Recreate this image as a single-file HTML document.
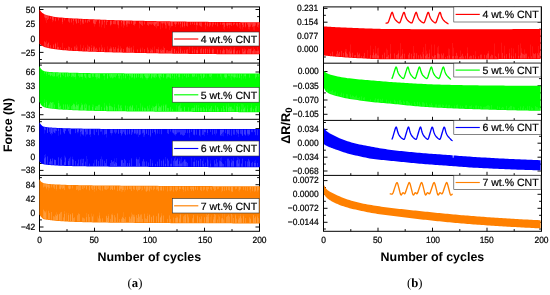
<!DOCTYPE html>
<html lang="en"><head><meta charset="utf-8"><title>Cyclic force and resistance response</title>
<style>html,body{margin:0;padding:0;background:#fff}body{width:550px;height:295px;overflow:hidden}svg{display:block}</style>
</head><body>
<svg width="550" height="295" viewBox="0 0 550 295" font-family="'Liberation Sans', Arial, sans-serif" fill="#000" text-rendering="geometricPrecision">
<rect width="550" height="295" fill="#fff"/>
<g stroke="#000" stroke-width="0.95" fill="none">
<path d="M94.5,6.9v3.6M149.5,6.9v3.6M204.5,6.9v3.6M67.0,6.9v2.2M122.0,6.9v2.2M177.0,6.9v2.2M232.0,6.9v2.2M94.5,63.1v-3.6M149.5,63.1v-3.6M204.5,63.1v-3.6M67.0,63.1v-2.2M122.0,63.1v-2.2M177.0,63.1v-2.2M232.0,63.1v-2.2M94.5,119.3v-3.6M149.5,119.3v-3.6M204.5,119.3v-3.6M67.0,119.3v-2.2M122.0,119.3v-2.2M177.0,119.3v-2.2M232.0,119.3v-2.2M94.5,175.4v-3.6M149.5,175.4v-3.6M204.5,175.4v-3.6M67.0,175.4v-2.2M122.0,175.4v-2.2M177.0,175.4v-2.2M232.0,175.4v-2.2M94.5,231.3v-3.6M149.5,231.3v-3.6M204.5,231.3v-3.6M67.0,231.3v-2.2M122.0,231.3v-2.2M177.0,231.3v-2.2M232.0,231.3v-2.2M39.5,9.5h4M259.5,9.5h-4M39.5,23.8h4M259.5,23.8h-4M39.5,38.1h4M259.5,38.1h-4M39.5,52.4h4M259.5,52.4h-4M39.5,72.0h4M259.5,72.0h-4M39.5,86.2h4M259.5,86.2h-4M39.5,100.4h4M259.5,100.4h-4M39.5,114.7h4M259.5,114.7h-4M39.5,128.6h4M259.5,128.6h-4M39.5,142.5h4M259.5,142.5h-4M39.5,156.5h4M259.5,156.5h-4M39.5,170.4h4M259.5,170.4h-4M39.5,184.7h4M259.5,184.7h-4M39.5,198.8h4M259.5,198.8h-4M39.5,212.9h4M259.5,212.9h-4M39.5,227.0h4M259.5,227.0h-4M39.5,16.6h2.4M259.5,16.6h-2.4M39.5,31.0h2.4M259.5,31.0h-2.4M39.5,45.3h2.4M259.5,45.3h-2.4M39.5,59.5h2.4M259.5,59.5h-2.4M39.5,65.1h2.4M259.5,65.1h-2.4M39.5,79.1h2.4M259.5,79.1h-2.4M39.5,93.3h2.4M259.5,93.3h-2.4M39.5,107.6h2.4M259.5,107.6h-2.4M39.5,121.7h2.4M259.5,121.7h-2.4M39.5,135.6h2.4M259.5,135.6h-2.4M39.5,149.5h2.4M259.5,149.5h-2.4M39.5,163.5h2.4M259.5,163.5h-2.4M39.5,177.6h2.4M259.5,177.6h-2.4M39.5,191.8h2.4M259.5,191.8h-2.4M39.5,205.8h2.4M259.5,205.8h-2.4M39.5,219.9h2.4M259.5,219.9h-2.4"/>
</g>
<g stroke="#000" stroke-width="1" fill="none">
<rect x="39.5" y="6.9" width="220.0" height="224.4"/>
<path d="M39.5,63.1H259.5M39.5,119.3H259.5M39.5,175.4H259.5"/>
</g>
<path d="M39.4,9.38 L39.9,10.10 L40.4,10.78 L40.9,11.42 L41.4,11.98 L41.9,12.47 L42.4,12.89 L42.9,13.27 L43.4,13.62 L43.9,13.93 L44.4,14.20 L44.9,14.44 L45.4,14.64 L45.9,14.81 L46.4,14.98 L46.9,15.13 L47.4,15.27 L47.9,15.39 L48.4,15.52 L48.9,15.63 L49.4,15.75 L49.9,15.87 L50.4,15.98 L50.9,16.10 L51.4,16.21 L51.9,16.32 L52.4,16.43 L52.9,16.53 L53.4,16.63 L55.4,16.95 L57.4,17.19 L59.4,17.40 L61.4,17.58 L63.4,17.74 L65.3,17.89 L67.3,18.02 L69.3,18.15 L71.3,18.27 L73.3,18.39 L75.3,18.50 L77.3,18.60 L79.3,18.70 L81.3,18.80 L83.3,18.89 L85.3,18.98 L87.3,19.07 L89.3,19.16 L91.3,19.24 L93.3,19.33 L95.3,19.42 L97.3,19.50 L99.3,19.59 L101.3,19.67 L103.3,19.76 L105.3,19.84 L107.3,19.91 L109.3,19.98 L111.3,20.04 L113.3,20.10 L115.3,20.16 L117.3,20.22 L119.3,20.28 L121.3,20.34 L123.3,20.39 L125.3,20.44 L127.3,20.49 L129.3,20.54 L131.3,20.59 L133.3,20.64 L135.3,20.69 L137.3,20.73 L139.3,20.78 L141.3,20.82 L143.3,20.86 L145.3,20.91 L147.3,20.95 L149.3,20.99 L151.3,21.03 L153.3,21.07 L155.3,21.10 L157.3,21.14 L159.3,21.18 L161.3,21.22 L163.3,21.26 L165.3,21.29 L167.3,21.33 L169.3,21.37 L171.3,21.40 L173.3,21.44 L175.3,21.47 L177.3,21.50 L179.3,21.53 L181.3,21.56 L183.3,21.59 L185.3,21.62 L187.3,21.65 L189.3,21.68 L191.3,21.70 L193.3,21.73 L195.3,21.75 L197.3,21.77 L199.3,21.79 L201.3,21.81 L203.3,21.83 L205.3,21.85 L207.3,21.87 L209.3,21.89 L211.3,21.91 L213.3,21.92 L215.3,21.94 L217.3,21.96 L219.3,21.98 L221.3,21.99 L223.3,22.01 L225.3,22.03 L227.3,22.04 L229.3,22.06 L231.3,22.07 L233.3,22.08 L235.3,22.10 L237.3,22.11 L239.3,22.12 L241.3,22.13 L243.3,22.14 L245.3,22.15 L247.3,22.16 L249.3,22.17 L251.3,22.18 L253.3,22.19 L255.3,22.19 L257.4,22.20 L259.4,22.20 L259.9,22.20 L259.9,54.30 L259.4,54.30 L257.4,54.30 L255.3,54.30 L253.3,54.30 L251.3,54.29 L249.3,54.29 L247.3,54.28 L245.3,54.28 L243.3,54.27 L241.3,54.26 L239.3,54.26 L237.3,54.25 L235.3,54.24 L233.3,54.23 L231.3,54.22 L229.3,54.21 L227.3,54.19 L225.3,54.18 L223.3,54.17 L221.3,54.16 L219.3,54.14 L217.3,54.13 L215.3,54.12 L213.3,54.10 L211.3,54.09 L209.3,54.07 L207.3,54.06 L205.3,54.04 L203.3,54.03 L201.3,54.01 L199.3,53.99 L197.3,53.98 L195.3,53.96 L193.3,53.94 L191.3,53.91 L189.3,53.89 L187.3,53.86 L185.3,53.83 L183.3,53.80 L181.3,53.77 L179.3,53.74 L177.3,53.71 L175.3,53.68 L173.3,53.64 L171.3,53.60 L169.3,53.57 L167.3,53.53 L165.3,53.49 L163.3,53.46 L161.3,53.42 L159.3,53.38 L157.3,53.34 L155.3,53.30 L153.3,53.26 L151.3,53.23 L149.3,53.19 L147.3,53.15 L145.3,53.11 L143.3,53.07 L141.3,53.03 L139.3,53.00 L137.3,52.96 L135.3,52.92 L133.3,52.87 L131.3,52.83 L129.3,52.79 L127.3,52.75 L125.3,52.70 L123.3,52.65 L121.3,52.61 L119.3,52.56 L117.3,52.51 L115.3,52.46 L113.3,52.41 L111.3,52.35 L109.3,52.30 L107.3,52.24 L105.3,52.18 L103.3,52.12 L101.3,52.06 L99.3,52.00 L97.3,51.93 L95.3,51.87 L93.3,51.80 L91.3,51.72 L89.3,51.65 L87.3,51.57 L85.3,51.49 L83.3,51.40 L81.3,51.31 L79.3,51.22 L77.3,51.12 L75.3,51.01 L73.3,50.90 L71.3,50.78 L69.3,50.66 L67.3,50.52 L65.3,50.35 L63.4,50.17 L61.4,49.97 L59.4,49.75 L57.4,49.51 L55.4,49.25 L53.4,48.97 L52.9,48.90 L52.4,48.82 L51.9,48.74 L51.4,48.66 L50.9,48.57 L50.4,48.48 L49.9,48.39 L49.4,48.29 L48.9,48.19 L48.4,48.08 L47.9,47.97 L47.4,47.85 L46.9,47.73 L46.4,47.59 L45.9,47.45 L45.4,47.31 L44.9,47.15 L44.4,46.97 L43.9,46.75 L43.4,46.50 L42.9,46.23 L42.4,45.94 L41.9,45.63 L41.4,45.30 L40.9,44.96 L40.4,44.61 L39.9,44.25 L39.4,43.89Z" fill="#ff0000"/>
<path d="M44.5,14.62v2.8M44.5,46.22v-4.9M45.5,15.10v3.0M45.5,46.60v-4.3M46.5,15.47v2.5M47.5,15.77v4.2M47.5,47.16v-3.3M48.5,16.03v2.9M48.5,47.41v-4.8M50.5,16.50v2.3M50.5,47.82v-2.7M52.5,16.96v2.8M53.5,17.16v3.4M53.5,48.32v-3.0M55.5,17.50v3.7M55.5,48.60v-4.8M57.5,48.86v-1.6M58.5,17.86v2.5M58.5,48.99v-2.1M60.5,49.22v-1.9M62.5,18.23v3.9M64.5,18.39v1.9M64.5,49.63v-1.7M66.5,49.81v-1.6M68.5,18.67v2.9M68.5,49.96v-3.4M69.5,18.73v3.9M69.5,50.04v-3.1M71.5,18.85v3.6M71.5,50.16v-2.3M73.5,18.97v2.0M74.5,50.34v-3.8M75.5,19.08v2.3M76.5,19.13v4.5M76.5,50.45v-2.6M78.5,19.24v3.8M80.5,19.33v1.9M82.5,19.43v3.1M82.5,50.74v-2.6M83.5,19.47v4.4M85.5,19.56v2.9M85.5,50.87v-3.3M87.5,19.65v3.1M87.5,50.96v-2.3M88.5,19.70v1.5M88.5,51.00v-1.6M89.5,19.74v2.3M89.5,51.04v-4.3M91.5,51.11v-3.1M93.5,19.91v3.0M93.5,51.18v-3.5M94.5,19.96v4.0M94.5,51.22v-4.6M95.5,20.00v4.2M95.5,51.25v-2.5M96.5,20.04v1.6M96.5,51.29v-3.5M97.5,51.32v-1.7M99.5,20.17v3.2M99.5,51.39v-3.9M101.5,51.45v-2.1M102.5,20.30v4.3M102.5,51.48v-3.9M104.5,20.38v1.8M104.5,51.54v-2.0M106.5,20.46v4.4M107.5,20.50v1.5M109.5,51.69v-2.9M110.5,20.60v4.2M110.5,51.72v-3.2M111.5,20.63v3.8M111.5,51.74v-3.2M113.5,20.69v3.4M113.5,51.80v-4.7M114.5,20.72v3.5M114.5,51.82v-2.7M115.5,20.75v3.5M115.5,51.85v-4.7M117.5,20.81v3.7M117.5,51.90v-3.3M118.5,20.84v4.4M118.5,51.93v-3.5M120.5,51.98v-2.3M121.5,20.93v1.7M121.5,52.00v-3.7M123.5,20.98v3.4M123.5,52.05v-3.1M124.5,21.01v4.5M126.5,21.06v3.6M126.5,52.12v-4.7M127.5,21.09v2.4M127.5,52.14v-5.0M128.5,21.11v2.5M128.5,52.16v-4.3M129.5,21.14v3.0M129.5,52.18v-3.8M131.5,21.19v2.5M131.5,52.22v-4.8M133.5,21.23v3.8M133.5,52.27v-2.6M134.5,21.26v3.2M135.5,21.28v2.5M137.5,52.35v-2.9M139.5,21.37v1.9M140.5,21.39v2.6M140.5,52.41v-2.9M141.5,21.41v3.6M142.5,21.44v4.4M144.5,21.48v2.9M144.5,52.49v-3.5M147.5,21.54v3.4M147.5,52.54v-4.9M148.5,21.56v4.1M148.5,52.56v-2.8M149.5,21.58v2.6M150.5,21.60v2.8M150.5,52.60v-1.5M151.5,21.62v3.1M151.5,52.62v-3.1M152.5,21.64v2.2M152.5,52.64v-2.3M153.5,21.66v3.2M154.5,21.68v4.2M155.5,21.70v2.7M156.5,21.72v1.9M156.5,52.71v-3.8M157.5,21.74v4.4M157.5,52.73v-3.5M158.5,21.76v4.3M158.5,52.75v-3.1M160.5,52.79v-3.1M161.5,21.81v1.6M161.5,52.81v-1.9M162.5,21.83v1.7M162.5,52.83v-3.0M163.5,21.85v1.5M163.5,52.85v-2.7M164.5,21.87v1.7M164.5,52.87v-4.9M165.5,21.89v3.3M166.5,52.91v-2.6M167.5,21.92v1.6M167.5,52.92v-2.8M168.5,21.94v3.6M168.5,52.94v-1.7M169.5,21.96v3.7M169.5,52.96v-2.1M170.5,52.98v-2.1M171.5,21.99v3.9M171.5,53.00v-3.3M172.5,22.01v4.0M174.5,22.05v1.8M174.5,53.05v-4.2M175.5,22.06v2.7M176.5,22.08v1.8M176.5,53.09v-2.3M178.5,22.11v2.4M178.5,53.12v-1.6M180.5,22.14v1.9M180.5,53.15v-3.8M182.5,22.17v4.5M182.5,53.18v-2.6M184.5,22.20v3.7M184.5,53.21v-3.4M186.5,22.23v3.6M186.5,53.24v-3.5M187.5,22.25v4.3M187.5,53.26v-4.0M190.5,22.29v2.6M192.5,22.31v2.0M192.5,53.32v-2.6M194.5,22.34v2.6M194.5,53.34v-4.0M196.5,22.36v2.6M196.5,53.36v-3.5M197.5,22.37v3.0M197.5,53.37v-3.0M199.5,22.39v2.9M200.5,22.40v3.8M200.5,53.40v-4.2M201.5,22.41v4.3M201.5,53.41v-5.0M203.5,53.42v-4.0M205.5,22.45v2.4M205.5,53.44v-4.9M207.5,22.47v3.8M207.5,53.45v-4.2M209.5,22.48v4.2M209.5,53.47v-3.9M210.5,22.49v2.9M212.5,22.51v4.1M212.5,53.49v-3.6M213.5,22.52v2.0M213.5,53.50v-4.3M215.5,22.54v2.3M217.5,22.56v3.8M217.5,53.53v-4.0M220.5,22.58v2.1M220.5,53.55v-3.7M222.5,22.60v2.3M222.5,53.56v-2.9M223.5,22.61v1.9M223.5,53.57v-3.9M224.5,22.61v4.2M224.5,53.57v-3.7M226.5,22.63v2.8M226.5,53.59v-4.9M227.5,22.64v3.3M227.5,53.59v-4.3M228.5,22.65v2.2M228.5,53.60v-3.4M229.5,22.65v2.3M229.5,53.60v-4.3M230.5,22.66v2.2M230.5,53.61v-2.2M231.5,22.67v3.4M231.5,53.61v-3.2M233.5,22.68v2.6M233.5,53.63v-3.4M234.5,22.69v1.6M234.5,53.63v-4.1M236.5,22.70v2.6M236.5,53.64v-2.5M237.5,22.71v3.8M237.5,53.64v-3.4M239.5,22.72v1.7M239.5,53.65v-3.2M242.5,22.74v2.3M242.5,53.67v-4.9M243.5,22.74v4.4M243.5,53.67v-1.6M244.5,53.67v-2.9M245.5,22.75v3.8M245.5,53.68v-4.3M247.5,22.76v1.9M247.5,53.68v-3.3M248.5,22.77v4.0M248.5,53.68v-4.9M249.5,22.77v4.2M249.5,53.69v-4.7M250.5,22.77v3.8M250.5,53.69v-4.7M251.5,22.78v1.9M252.5,22.78v4.3M252.5,53.69v-2.7M253.5,22.78v3.6M253.5,53.69v-3.3M254.5,22.79v3.4M254.5,53.70v-4.7M255.5,22.79v2.8M255.5,53.70v-3.0M256.5,53.70v-2.7M257.5,22.80v4.1M257.5,53.70v-2.8M258.5,22.80v2.0M258.5,53.70v-2.8" stroke="#fff" stroke-opacity="0.21" stroke-width="0.8" fill="none"/>
<path d="M45.5,15.10v5.2M46.5,46.90v-6.3M46.5,15.47v7.4M48.5,47.41v-4.8M52.5,16.96v5.2M53.5,48.32v-4.3M55.5,48.60v-5.9M57.5,48.86v-6.4M62.5,49.44v-6.6M62.5,18.23v5.9M73.5,18.97v5.8M75.5,50.39v-4.0M76.5,50.45v-5.7M76.5,19.13v4.0M77.5,50.50v-4.0M80.5,50.65v-6.0M80.5,19.33v5.4M82.5,19.43v4.8M83.5,50.79v-5.4M87.5,50.96v-6.2M88.5,51.00v-4.8M89.5,51.04v-4.4M91.5,51.11v-6.1M93.5,51.18v-5.4M93.5,19.91v4.2M94.5,19.96v6.6M99.5,20.17v6.5M101.5,51.45v-6.7M101.5,20.26v7.1M104.5,51.54v-4.2M104.5,20.38v7.8M107.5,51.63v-5.2M110.5,51.72v-5.4M110.5,20.60v5.6M111.5,51.74v-4.6M118.5,51.93v-6.4M118.5,20.84v7.4M120.5,51.98v-5.6M121.5,20.93v5.6M123.5,20.98v6.8M126.5,21.06v5.7M127.5,52.14v-5.9M127.5,21.09v5.6M129.5,52.18v-5.9M130.5,52.20v-4.4M133.5,52.27v-6.5M134.5,21.26v4.8M139.5,21.37v7.0M140.5,52.41v-4.7M142.5,52.45v-4.8M150.5,52.60v-4.2M152.5,52.64v-5.1M154.5,52.68v-6.3M154.5,21.68v4.5M155.5,21.70v5.1M156.5,21.72v6.6M158.5,52.75v-5.6M160.5,21.79v7.5M161.5,52.81v-4.1M162.5,21.83v5.9M163.5,52.85v-6.3M165.5,21.89v6.7M166.5,21.91v6.6M169.5,21.96v7.9M170.5,21.98v5.6M171.5,53.00v-5.2M171.5,21.99v4.5M172.5,53.02v-5.0M174.5,53.05v-4.1M175.5,22.06v5.0M178.5,53.12v-6.9M180.5,53.15v-5.9M180.5,22.14v5.5M182.5,22.17v5.3M184.5,22.20v5.3M189.5,53.28v-6.5M192.5,53.32v-6.5M196.5,22.36v7.5M197.5,53.37v-5.9M203.5,53.42v-4.7M205.5,53.44v-4.4M205.5,22.45v6.9M209.5,53.47v-5.4M212.5,53.49v-5.3M223.5,53.57v-5.4M223.5,22.61v6.2M224.5,22.61v7.3M227.5,22.64v5.6M229.5,22.65v5.9M230.5,53.61v-6.1M231.5,53.61v-5.0M233.5,53.63v-5.2M234.5,53.63v-6.7M239.5,22.72v5.4M240.5,22.73v6.2M242.5,22.74v6.7M243.5,53.67v-4.4M244.5,53.67v-5.5M245.5,22.75v4.9M248.5,22.77v6.4M249.5,22.77v6.7M250.5,53.69v-5.3M251.5,53.69v-5.5M253.5,53.69v-6.5M253.5,22.78v7.0M254.5,22.79v7.6M257.5,53.70v-6.9M258.5,53.70v-4.1M258.5,22.80v5.0" stroke="#fff" stroke-opacity="0.12" stroke-width="0.7" fill="none"/>
<path d="M39.4,66.10 L39.9,67.07 L40.4,67.96 L40.9,68.73 L41.4,69.35 L41.9,69.82 L42.4,70.24 L42.9,70.60 L43.4,70.87 L43.9,71.04 L44.4,71.18 L44.9,71.30 L45.4,71.42 L45.9,71.51 L46.4,71.60 L46.9,71.68 L47.4,71.74 L47.9,71.80 L48.4,71.85 L48.9,71.89 L49.4,71.92 L49.9,71.96 L50.4,71.99 L50.9,72.02 L51.4,72.05 L51.9,72.07 L52.4,72.10 L52.9,72.13 L53.4,72.15 L55.4,72.24 L57.4,72.31 L59.4,72.38 L61.4,72.43 L63.4,72.49 L65.3,72.53 L67.3,72.58 L69.3,72.63 L71.3,72.69 L73.3,72.74 L75.3,72.79 L77.3,72.84 L79.3,72.89 L81.3,72.94 L83.3,72.98 L85.3,73.03 L87.3,73.07 L89.3,73.11 L91.3,73.14 L93.3,73.18 L95.3,73.21 L97.3,73.23 L99.3,73.26 L101.3,73.28 L103.3,73.29 L105.3,73.30 L107.3,73.31 L109.3,73.32 L111.3,73.33 L113.3,73.33 L115.3,73.34 L117.3,73.35 L119.3,73.36 L121.3,73.36 L123.3,73.37 L125.3,73.38 L127.3,73.39 L129.3,73.39 L131.3,73.40 L133.3,73.41 L135.3,73.41 L137.3,73.42 L139.3,73.43 L141.3,73.43 L143.3,73.44 L145.3,73.44 L147.3,73.45 L149.3,73.46 L151.3,73.46 L153.3,73.47 L155.3,73.47 L157.3,73.48 L159.3,73.48 L161.3,73.49 L163.3,73.49 L165.3,73.50 L167.3,73.50 L169.3,73.51 L171.3,73.51 L173.3,73.51 L175.3,73.52 L177.3,73.52 L179.3,73.53 L181.3,73.53 L183.3,73.53 L185.3,73.54 L187.3,73.54 L189.3,73.54 L191.3,73.55 L193.3,73.55 L195.3,73.55 L197.3,73.56 L199.3,73.56 L201.3,73.56 L203.3,73.56 L205.3,73.57 L207.3,73.57 L209.3,73.57 L211.3,73.57 L213.3,73.58 L215.3,73.58 L217.3,73.58 L219.3,73.58 L221.3,73.58 L223.3,73.59 L225.3,73.59 L227.3,73.59 L229.3,73.59 L231.3,73.59 L233.3,73.59 L235.3,73.59 L237.3,73.59 L239.3,73.60 L241.3,73.60 L243.3,73.60 L245.3,73.60 L247.3,73.60 L249.3,73.60 L251.3,73.60 L253.3,73.60 L255.3,73.60 L257.4,73.60 L259.4,73.60 L259.9,73.60 L259.9,112.20 L259.4,112.20 L257.4,112.19 L255.3,112.19 L253.3,112.18 L251.3,112.17 L249.3,112.17 L247.3,112.16 L245.3,112.15 L243.3,112.15 L241.3,112.14 L239.3,112.13 L237.3,112.12 L235.3,112.11 L233.3,112.10 L231.3,112.09 L229.3,112.08 L227.3,112.08 L225.3,112.07 L223.3,112.06 L221.3,112.05 L219.3,112.04 L217.3,112.02 L215.3,112.01 L213.3,112.00 L211.3,111.99 L209.3,111.98 L207.3,111.97 L205.3,111.96 L203.3,111.95 L201.3,111.93 L199.3,111.92 L197.3,111.91 L195.3,111.90 L193.3,111.89 L191.3,111.87 L189.3,111.86 L187.3,111.85 L185.3,111.83 L183.3,111.82 L181.3,111.81 L179.3,111.80 L177.3,111.78 L175.3,111.77 L173.3,111.76 L171.3,111.74 L169.3,111.73 L167.3,111.72 L165.3,111.70 L163.3,111.69 L161.3,111.68 L159.3,111.66 L157.3,111.65 L155.3,111.63 L153.3,111.62 L151.3,111.60 L149.3,111.59 L147.3,111.57 L145.3,111.56 L143.3,111.54 L141.3,111.52 L139.3,111.51 L137.3,111.49 L135.3,111.47 L133.3,111.45 L131.3,111.43 L129.3,111.41 L127.3,111.39 L125.3,111.37 L123.3,111.34 L121.3,111.32 L119.3,111.30 L117.3,111.27 L115.3,111.25 L113.3,111.22 L111.3,111.19 L109.3,111.16 L107.3,111.14 L105.3,111.11 L103.3,111.07 L101.3,111.04 L99.3,111.00 L97.3,110.95 L95.3,110.91 L93.3,110.86 L91.3,110.80 L89.3,110.74 L87.3,110.68 L85.3,110.62 L83.3,110.55 L81.3,110.48 L79.3,110.40 L77.3,110.32 L75.3,110.24 L73.3,110.15 L71.3,110.06 L69.3,109.97 L67.3,109.87 L65.3,109.76 L63.4,109.65 L61.4,109.52 L59.4,109.38 L57.4,109.22 L55.4,109.04 L53.4,108.83 L52.9,108.78 L52.4,108.72 L51.9,108.66 L51.4,108.60 L50.9,108.54 L50.4,108.48 L49.9,108.41 L49.4,108.35 L48.9,108.28 L48.4,108.20 L47.9,108.12 L47.4,108.03 L46.9,107.93 L46.4,107.81 L45.9,107.69 L45.4,107.55 L44.9,107.40 L44.4,107.24 L43.9,107.06 L43.4,106.85 L42.9,106.58 L42.4,106.24 L41.9,105.83 L41.4,105.34 L40.9,104.66 L40.4,103.79 L39.9,102.77 L39.4,101.66Z" fill="#00ff00"/>
<path d="M44.5,71.69v1.9M44.5,106.51v-3.5M46.5,72.14v1.6M46.5,107.13v-5.1M48.5,72.42v2.5M48.5,107.55v-2.3M49.5,72.50v2.1M49.5,107.70v-3.2M50.5,72.57v3.2M50.5,107.83v-5.9M51.5,72.63v2.6M51.5,107.96v-5.1M52.5,72.68v3.5M52.5,108.08v-5.9M53.5,72.73v3.8M54.5,72.78v3.5M54.5,108.30v-3.7M56.5,72.87v3.6M57.5,72.90v3.4M58.5,72.94v2.3M58.5,108.67v-5.6M59.5,72.97v1.6M59.5,108.75v-2.0M60.5,73.00v4.4M60.5,108.83v-3.1M62.5,73.05v1.7M63.5,73.08v2.7M63.5,109.03v-4.6M65.5,73.13v4.1M65.5,109.14v-4.7M67.5,73.17v3.4M67.5,109.25v-4.8M68.5,109.30v-2.7M69.5,73.23v2.8M71.5,73.28v3.8M71.5,109.44v-3.3M72.5,73.30v2.4M72.5,109.49v-4.4M73.5,73.33v3.0M73.5,109.53v-5.9M74.5,73.35v3.7M74.5,109.58v-5.4M75.5,73.38v3.3M75.5,109.62v-3.0M76.5,109.66v-4.7M77.5,109.71v-4.0M78.5,73.46v2.5M78.5,109.75v-5.5M79.5,73.48v4.0M80.5,73.50v3.2M80.5,109.83v-2.3M81.5,73.53v3.3M81.5,109.86v-4.5M82.5,73.55v3.2M82.5,109.90v-5.4M84.5,73.60v2.1M84.5,109.97v-5.5M85.5,73.62v4.3M85.5,110.01v-2.0M86.5,110.04v-5.6M88.5,73.68v3.6M89.5,73.70v4.2M89.5,110.13v-4.8M90.5,73.72v4.2M92.5,73.76v2.6M92.5,110.22v-3.3M93.5,73.77v3.1M95.5,73.80v3.3M95.5,110.30v-2.5M96.5,73.82v3.6M96.5,110.32v-4.2M97.5,73.83v2.9M97.5,110.35v-4.1M98.5,73.84v4.3M98.5,110.37v-5.5M99.5,73.85v3.8M99.5,110.39v-5.7M101.5,110.43v-3.6M103.5,73.89v1.9M104.5,73.90v1.8M104.5,110.48v-2.8M106.5,110.52v-4.7M107.5,73.91v4.3M107.5,110.53v-3.9M109.5,73.92v2.5M109.5,110.56v-4.5M110.5,73.92v3.9M110.5,110.57v-4.8M111.5,73.92v2.7M111.5,110.59v-4.2M112.5,73.93v4.4M112.5,110.60v-3.4M113.5,73.93v3.6M114.5,73.94v3.0M114.5,110.63v-3.4M115.5,73.94v3.5M116.5,73.94v1.7M116.5,110.66v-2.3M118.5,73.95v2.0M118.5,110.68v-6.0M119.5,73.96v4.5M119.5,110.69v-2.3M120.5,73.96v1.8M120.5,110.71v-5.2M121.5,110.72v-2.6M123.5,73.97v1.8M125.5,73.98v4.3M125.5,110.76v-5.2M127.5,73.98v2.1M127.5,110.79v-2.0M129.5,73.99v1.7M129.5,110.81v-4.2M130.5,74.00v2.3M130.5,110.82v-5.1M131.5,74.00v3.6M131.5,110.83v-3.4M132.5,74.00v3.3M132.5,110.84v-5.6M134.5,74.01v3.6M134.5,110.86v-2.3M136.5,74.02v3.4M138.5,74.02v3.2M138.5,110.89v-2.8M140.5,74.03v4.0M141.5,74.03v3.5M142.5,74.03v4.4M142.5,110.93v-3.5M144.5,74.04v2.0M144.5,110.95v-3.2M145.5,74.04v3.2M145.5,110.95v-2.6M146.5,74.05v4.0M147.5,74.05v4.1M147.5,110.97v-4.7M148.5,74.05v3.7M148.5,110.98v-2.4M149.5,74.05v1.5M151.5,74.06v3.8M151.5,111.00v-3.1M152.5,74.06v2.5M153.5,74.07v3.2M153.5,111.02v-3.4M154.5,74.07v3.4M154.5,111.02v-4.0M155.5,74.07v1.5M155.5,111.03v-4.8M156.5,74.07v3.1M156.5,111.04v-5.4M158.5,74.08v2.5M158.5,111.05v-2.9M159.5,74.08v3.8M159.5,111.06v-4.9M160.5,74.08v2.0M160.5,111.07v-3.7M161.5,74.09v2.9M161.5,111.07v-5.6M163.5,74.09v3.3M163.5,111.09v-5.3M165.5,111.10v-5.8M166.5,74.10v4.4M167.5,74.10v3.0M167.5,111.11v-3.2M168.5,74.10v2.7M168.5,111.12v-3.0M169.5,74.10v3.4M170.5,74.11v4.3M170.5,111.13v-4.0M172.5,74.11v1.8M172.5,111.15v-2.3M174.5,74.12v4.3M176.5,74.12v1.7M178.5,74.12v3.2M178.5,111.19v-4.9M179.5,74.13v2.9M179.5,111.19v-5.8M180.5,111.20v-2.8M181.5,111.21v-3.1M184.5,74.13v1.9M184.5,111.23v-4.1M186.5,74.14v3.5M188.5,74.14v2.9M188.5,111.25v-3.9M191.5,111.27v-2.8M192.5,74.15v2.2M192.5,111.28v-3.5M193.5,74.15v2.7M193.5,111.28v-3.2M194.5,74.15v1.7M194.5,111.29v-3.7M196.5,74.15v2.7M196.5,111.30v-6.0M198.5,111.31v-3.4M200.5,74.16v1.7M200.5,111.33v-3.7M201.5,74.16v4.4M201.5,111.33v-3.6M203.5,74.16v4.0M203.5,111.34v-4.3M204.5,74.17v2.6M204.5,111.35v-2.7M206.5,111.36v-3.0M209.5,74.17v2.4M209.5,111.38v-2.3M210.5,74.17v2.9M210.5,111.38v-3.6M211.5,74.17v1.5M211.5,111.39v-5.3M213.5,111.40v-2.2M215.5,111.41v-5.9M217.5,111.42v-4.1M218.5,111.43v-2.6M220.5,74.18v2.4M221.5,111.44v-3.3M223.5,111.45v-5.6M224.5,74.19v3.1M224.5,111.46v-2.2M225.5,74.19v4.1M226.5,74.19v3.0M226.5,111.47v-4.9M228.5,74.19v1.8M228.5,111.48v-3.6M229.5,74.19v2.0M229.5,111.48v-4.9M230.5,111.49v-4.4M231.5,74.19v2.0M231.5,111.49v-4.8M232.5,74.19v2.3M232.5,111.50v-2.8M233.5,74.19v3.2M233.5,111.50v-2.4M234.5,74.19v3.2M235.5,74.19v3.0M236.5,111.52v-5.4M237.5,74.19v3.4M237.5,111.52v-4.6M239.5,74.20v3.9M239.5,111.53v-5.0M241.5,74.20v1.7M241.5,111.54v-2.2M243.5,111.54v-2.5M244.5,74.20v2.1M244.5,111.55v-3.4M245.5,74.20v2.0M247.5,111.56v-2.9M249.5,74.20v3.4M250.5,111.57v-3.7M251.5,111.57v-4.2M253.5,111.58v-2.7M255.5,74.20v4.3M255.5,111.59v-3.5M256.5,74.20v2.8M256.5,111.59v-5.5M258.5,74.20v2.4" stroke="#fff" stroke-opacity="0.21" stroke-width="0.8" fill="none"/>
<path d="M44.5,106.51v-7.1M46.5,107.13v-6.7M46.5,72.14v3.8M49.5,107.70v-4.7M50.5,72.57v3.7M51.5,107.96v-5.3M53.5,108.19v-6.1M54.5,72.78v3.6M58.5,108.67v-8.0M58.5,72.94v5.4M59.5,108.75v-5.4M60.5,73.00v4.3M67.5,73.17v3.1M68.5,73.20v4.1M69.5,109.35v-4.8M72.5,73.30v4.0M73.5,109.53v-4.9M73.5,73.33v4.2M74.5,109.58v-4.2M75.5,73.38v5.9M76.5,109.66v-7.9M77.5,109.71v-5.3M81.5,109.86v-7.0M81.5,73.53v3.4M82.5,109.90v-4.7M82.5,73.55v5.9M84.5,73.60v3.7M85.5,110.01v-6.8M85.5,73.62v3.8M86.5,73.64v5.0M88.5,110.10v-4.5M89.5,73.70v4.4M92.5,110.22v-5.8M92.5,73.76v3.7M93.5,110.25v-5.6M95.5,110.30v-4.4M96.5,73.82v5.7M97.5,73.83v5.0M99.5,73.85v5.2M104.5,110.48v-7.6M104.5,73.90v6.0M106.5,110.52v-5.9M107.5,73.91v5.2M109.5,110.56v-7.3M111.5,73.92v4.0M114.5,110.63v-6.5M118.5,73.95v4.4M121.5,110.72v-5.8M121.5,73.96v5.5M123.5,73.97v4.3M127.5,110.79v-4.7M129.5,73.99v5.7M132.5,110.84v-4.5M132.5,74.00v3.5M134.5,74.01v4.9M136.5,110.88v-5.8M136.5,74.02v3.9M140.5,110.91v-7.6M142.5,110.93v-5.4M145.5,74.04v4.2M146.5,74.05v5.6M147.5,74.05v5.5M149.5,110.99v-5.8M149.5,74.05v3.1M151.5,74.06v4.9M152.5,111.01v-5.3M153.5,111.02v-4.9M154.5,74.07v3.7M155.5,111.03v-5.0M155.5,74.07v4.2M156.5,111.04v-7.5M158.5,111.05v-7.6M159.5,111.06v-4.2M159.5,74.08v4.6M160.5,111.07v-4.5M160.5,74.08v5.8M163.5,111.09v-6.7M163.5,74.09v4.1M165.5,111.10v-6.9M166.5,111.11v-6.7M167.5,74.10v4.4M168.5,74.10v3.4M170.5,74.11v3.7M172.5,74.11v5.0M176.5,111.17v-6.2M176.5,74.12v5.4M179.5,74.13v5.4M180.5,111.20v-7.7M182.5,74.13v4.5M184.5,111.23v-5.0M192.5,74.15v3.2M194.5,111.29v-6.1M194.5,74.15v3.2M198.5,111.31v-6.3M198.5,74.16v5.8M203.5,74.16v3.5M206.5,111.36v-6.1M206.5,74.17v3.7M208.5,111.37v-5.6M211.5,74.17v4.6M217.5,111.42v-4.2M217.5,74.18v3.2M221.5,74.18v5.1M225.5,74.19v3.3M226.5,111.47v-7.0M226.5,74.19v4.5M228.5,111.48v-8.0M230.5,111.49v-4.9M230.5,74.19v3.7M231.5,74.19v5.9M234.5,111.51v-6.9M234.5,74.19v4.5M236.5,74.19v3.8M237.5,111.52v-7.7M239.5,74.20v3.4M241.5,111.54v-7.7M241.5,74.20v5.4M242.5,111.54v-7.5M243.5,111.54v-6.9M243.5,74.20v4.3M244.5,111.55v-4.7M245.5,111.55v-5.2M245.5,74.20v4.7M247.5,111.56v-6.3M251.5,111.57v-7.3M255.5,111.59v-5.8M258.5,111.60v-5.8" stroke="#fff" stroke-opacity="0.12" stroke-width="0.7" fill="none"/>
<path d="M39.4,122.24 L39.9,123.08 L40.4,123.84 L40.9,124.51 L41.4,125.06 L41.9,125.50 L42.4,125.89 L42.9,126.22 L43.4,126.48 L43.9,126.64 L44.4,126.76 L44.9,126.87 L45.4,126.96 L45.9,127.05 L46.4,127.12 L46.9,127.19 L47.4,127.25 L47.9,127.30 L48.4,127.35 L48.9,127.39 L49.4,127.43 L49.9,127.47 L50.4,127.50 L50.9,127.54 L51.4,127.58 L51.9,127.61 L52.4,127.64 L52.9,127.68 L53.4,127.71 L55.4,127.82 L57.4,127.93 L59.4,128.02 L61.4,128.10 L63.4,128.17 L65.3,128.23 L67.3,128.28 L69.3,128.33 L71.3,128.38 L73.3,128.43 L75.3,128.48 L77.3,128.52 L79.3,128.57 L81.3,128.61 L83.3,128.65 L85.3,128.68 L87.3,128.72 L89.3,128.75 L91.3,128.78 L93.3,128.81 L95.3,128.83 L97.3,128.85 L99.3,128.87 L101.3,128.88 L103.3,128.89 L105.3,128.90 L107.3,128.91 L109.3,128.91 L111.3,128.92 L113.3,128.92 L115.3,128.93 L117.3,128.93 L119.3,128.94 L121.3,128.94 L123.3,128.95 L125.3,128.95 L127.3,128.96 L129.3,128.96 L131.3,128.97 L133.3,128.97 L135.3,128.98 L137.3,128.98 L139.3,128.99 L141.3,128.99 L143.3,128.99 L145.3,129.00 L147.3,129.00 L149.3,129.01 L151.3,129.01 L153.3,129.01 L155.3,129.02 L157.3,129.02 L159.3,129.02 L161.3,129.03 L163.3,129.03 L165.3,129.03 L167.3,129.04 L169.3,129.04 L171.3,129.04 L173.3,129.04 L175.3,129.05 L177.3,129.05 L179.3,129.05 L181.3,129.05 L183.3,129.06 L185.3,129.06 L187.3,129.06 L189.3,129.06 L191.3,129.07 L193.3,129.07 L195.3,129.07 L197.3,129.07 L199.3,129.07 L201.3,129.08 L203.3,129.08 L205.3,129.08 L207.3,129.08 L209.3,129.08 L211.3,129.08 L213.3,129.09 L215.3,129.09 L217.3,129.09 L219.3,129.09 L221.3,129.09 L223.3,129.09 L225.3,129.09 L227.3,129.09 L229.3,129.09 L231.3,129.09 L233.3,129.10 L235.3,129.10 L237.3,129.10 L239.3,129.10 L241.3,129.10 L243.3,129.10 L245.3,129.10 L247.3,129.10 L249.3,129.10 L251.3,129.10 L253.3,129.10 L255.3,129.10 L257.4,129.10 L259.4,129.10 L259.9,129.10 L259.9,167.20 L259.4,167.20 L257.4,167.20 L255.3,167.20 L253.3,167.20 L251.3,167.20 L249.3,167.20 L247.3,167.20 L245.3,167.19 L243.3,167.19 L241.3,167.19 L239.3,167.19 L237.3,167.19 L235.3,167.18 L233.3,167.18 L231.3,167.18 L229.3,167.17 L227.3,167.17 L225.3,167.17 L223.3,167.16 L221.3,167.16 L219.3,167.15 L217.3,167.15 L215.3,167.15 L213.3,167.14 L211.3,167.14 L209.3,167.13 L207.3,167.12 L205.3,167.12 L203.3,167.11 L201.3,167.11 L199.3,167.10 L197.3,167.09 L195.3,167.09 L193.3,167.08 L191.3,167.07 L189.3,167.07 L187.3,167.06 L185.3,167.05 L183.3,167.04 L181.3,167.03 L179.3,167.03 L177.3,167.02 L175.3,167.01 L173.3,167.00 L171.3,166.99 L169.3,166.98 L167.3,166.97 L165.3,166.96 L163.3,166.95 L161.3,166.94 L159.3,166.93 L157.3,166.92 L155.3,166.91 L153.3,166.90 L151.3,166.89 L149.3,166.88 L147.3,166.87 L145.3,166.86 L143.3,166.85 L141.3,166.84 L139.3,166.82 L137.3,166.81 L135.3,166.80 L133.3,166.79 L131.3,166.78 L129.3,166.76 L127.3,166.75 L125.3,166.74 L123.3,166.73 L121.3,166.71 L119.3,166.70 L117.3,166.69 L115.3,166.67 L113.3,166.66 L111.3,166.64 L109.3,166.63 L107.3,166.62 L105.3,166.60 L103.3,166.59 L101.3,166.57 L99.3,166.55 L97.3,166.53 L95.3,166.51 L93.3,166.49 L91.3,166.46 L89.3,166.43 L87.3,166.40 L85.3,166.37 L83.3,166.34 L81.3,166.30 L79.3,166.26 L77.3,166.22 L75.3,166.18 L73.3,166.13 L71.3,166.08 L69.3,166.03 L67.3,165.98 L65.3,165.92 L63.4,165.85 L61.4,165.77 L59.4,165.68 L57.4,165.57 L55.4,165.45 L53.4,165.32 L52.9,165.29 L52.4,165.26 L51.9,165.22 L51.4,165.18 L50.9,165.15 L50.4,165.11 L49.9,165.07 L49.4,165.03 L48.9,164.99 L48.4,164.94 L47.9,164.90 L47.4,164.85 L46.9,164.79 L46.4,164.73 L45.9,164.67 L45.4,164.59 L44.9,164.51 L44.4,164.43 L43.9,164.33 L43.4,164.22 L42.9,164.08 L42.4,163.90 L41.9,163.68 L41.4,163.41 L40.9,163.03 L40.4,162.53 L39.9,161.95 L39.4,161.30Z" fill="#0000ff"/>
<path d="M44.5,127.28v2.4M44.5,163.76v-5.4M45.5,127.50v2.7M45.5,163.94v-6.7M47.5,127.81v5.2M47.5,164.21v-7.8M49.5,128.00v3.8M49.5,164.40v-2.6M50.5,128.08v5.9M50.5,164.48v-5.7M51.5,128.15v4.8M51.5,164.56v-3.4M52.5,128.22v5.5M52.5,164.63v-6.2M53.5,128.29v3.5M54.5,128.35v4.7M54.5,164.77v-5.0M55.5,128.40v2.2M55.5,164.83v-4.8M56.5,128.46v2.6M58.5,128.56v2.4M58.5,165.01v-7.7M60.5,128.64v5.9M60.5,165.11v-6.7M61.5,165.15v-5.4M63.5,128.75v3.6M64.5,128.79v5.1M64.5,165.27v-3.0M65.5,128.82v2.2M65.5,165.31v-7.6M68.5,128.90v2.4M68.5,165.40v-4.4M69.5,128.93v4.6M69.5,165.43v-7.1M70.5,128.95v5.2M72.5,165.50v-6.4M73.5,165.52v-5.9M75.5,129.07v4.1M75.5,165.57v-4.6M77.5,129.12v3.0M77.5,165.61v-2.1M78.5,129.14v2.3M78.5,165.63v-6.1M80.5,129.18v2.9M80.5,165.67v-6.2M81.5,129.20v2.0M82.5,129.22v5.2M82.5,165.71v-2.6M83.5,129.24v5.4M83.5,165.73v-6.9M85.5,129.28v2.5M85.5,165.76v-4.1M86.5,129.30v5.2M87.5,129.31v5.0M89.5,129.35v5.4M89.5,165.83v-2.2M90.5,129.36v4.9M93.5,165.88v-2.5M94.5,129.42v5.7M96.5,129.44v2.7M96.5,165.92v-6.5M98.5,129.46v5.8M98.5,165.94v-4.9M100.5,129.47v2.2M100.5,165.96v-6.9M101.5,129.48v2.1M102.5,165.98v-6.5M104.5,129.50v5.2M104.5,165.99v-5.2M105.5,129.50v4.6M105.5,166.00v-2.9M106.5,129.50v4.3M106.5,166.01v-6.9M110.5,129.51v3.6M110.5,166.04v-3.0M111.5,129.52v3.8M111.5,166.04v-6.0M112.5,129.52v3.7M112.5,166.05v-4.2M113.5,166.06v-4.8M114.5,129.53v2.9M114.5,166.06v-2.3M115.5,129.53v4.2M115.5,166.07v-3.9M116.5,129.53v3.0M116.5,166.08v-3.0M118.5,129.54v4.1M120.5,129.54v3.5M121.5,129.54v6.0M121.5,166.11v-5.7M122.5,129.55v4.1M122.5,166.12v-6.1M123.5,129.55v2.3M123.5,166.12v-3.2M124.5,129.55v4.2M124.5,166.13v-7.2M125.5,129.55v5.7M125.5,166.14v-5.8M127.5,129.56v4.9M127.5,166.15v-3.2M129.5,129.56v4.2M129.5,166.16v-3.0M131.5,129.57v5.3M131.5,166.17v-7.8M132.5,129.57v2.6M134.5,129.57v3.9M135.5,129.58v3.8M136.5,129.58v4.8M136.5,166.20v-7.3M137.5,129.58v3.8M137.5,166.21v-6.7M138.5,166.22v-6.9M139.5,129.58v5.3M139.5,166.22v-2.9M140.5,129.59v4.8M142.5,129.59v3.8M142.5,166.24v-4.9M143.5,129.59v3.1M143.5,166.25v-7.2M144.5,129.60v5.2M144.5,166.25v-4.7M146.5,129.60v4.1M146.5,166.26v-4.9M148.5,129.60v5.5M148.5,166.27v-3.7M150.5,129.61v6.0M150.5,166.29v-7.2M152.5,129.61v3.5M152.5,166.30v-3.0M154.5,129.61v2.4M155.5,129.62v4.0M155.5,166.31v-2.4M157.5,129.62v4.0M157.5,166.32v-4.7M159.5,166.33v-7.1M161.5,129.63v4.6M161.5,166.34v-5.6M163.5,166.35v-5.8M165.5,166.36v-2.6M167.5,129.64v3.6M167.5,166.37v-7.7M168.5,129.64v4.4M168.5,166.38v-5.8M170.5,129.64v2.0M170.5,166.39v-2.6M171.5,166.39v-2.6M172.5,129.64v2.9M173.5,129.64v3.3M173.5,166.40v-5.7M174.5,129.65v5.0M174.5,166.40v-8.0M175.5,129.65v4.7M175.5,166.41v-5.3M176.5,129.65v4.5M176.5,166.41v-6.2M177.5,129.65v3.0M177.5,166.42v-7.6M178.5,129.65v2.8M178.5,166.42v-2.3M179.5,129.65v2.6M179.5,166.43v-5.3M180.5,129.65v5.1M180.5,166.43v-2.9M181.5,129.65v4.8M181.5,166.43v-3.0M182.5,129.66v5.6M182.5,166.44v-4.1M183.5,129.66v6.0M183.5,166.44v-5.2M184.5,129.66v5.4M184.5,166.45v-6.7M185.5,129.66v3.2M185.5,166.45v-4.8M186.5,166.45v-4.6M187.5,129.66v3.6M187.5,166.46v-3.6M189.5,129.66v3.2M191.5,129.67v2.3M193.5,129.67v5.0M193.5,166.48v-4.7M194.5,129.67v5.6M194.5,166.48v-4.7M196.5,129.67v5.0M196.5,166.49v-6.2M198.5,166.50v-5.5M199.5,129.67v5.8M200.5,166.50v-7.5M202.5,129.68v5.2M202.5,166.51v-5.7M203.5,129.68v5.0M203.5,166.51v-2.4M204.5,129.68v2.3M205.5,129.68v2.6M205.5,166.52v-3.9M207.5,129.68v3.3M207.5,166.52v-7.0M210.5,129.68v2.3M210.5,166.53v-2.9M212.5,129.68v5.0M214.5,129.69v4.2M214.5,166.54v-6.3M215.5,166.54v-2.8M216.5,129.69v3.8M216.5,166.55v-7.4M217.5,166.55v-4.1M219.5,166.55v-6.0M220.5,129.69v5.4M220.5,166.56v-5.4M221.5,129.69v4.3M221.5,166.56v-4.5M222.5,129.69v3.0M222.5,166.56v-3.2M223.5,129.69v2.1M223.5,166.56v-2.5M225.5,129.69v3.5M227.5,129.69v4.5M227.5,166.57v-7.9M228.5,129.69v4.2M228.5,166.57v-7.9M229.5,129.69v5.4M229.5,166.57v-6.1M231.5,129.69v6.0M231.5,166.58v-4.0M232.5,166.58v-6.0M233.5,129.70v4.8M233.5,166.58v-5.5M234.5,129.70v5.0M236.5,129.70v2.0M236.5,166.58v-6.1M237.5,129.70v3.6M237.5,166.59v-6.6M238.5,129.70v4.3M238.5,166.59v-3.1M239.5,166.59v-7.3M240.5,129.70v4.0M241.5,129.70v4.6M241.5,166.59v-3.0M242.5,129.70v6.0M242.5,166.59v-7.9M244.5,129.70v4.6M245.5,129.70v5.9M245.5,166.59v-5.5M247.5,129.70v4.0M247.5,166.60v-5.1M248.5,129.70v4.7M248.5,166.60v-7.7M249.5,129.70v4.8M249.5,166.60v-5.1M251.5,129.70v2.4M251.5,166.60v-3.7M252.5,129.70v2.5M252.5,166.60v-4.8M254.5,129.70v2.4M254.5,166.60v-3.7M255.5,129.70v5.5M255.5,166.60v-3.6M257.5,129.70v5.6M257.5,166.60v-3.7" stroke="#fff" stroke-opacity="0.21" stroke-width="0.8" fill="none"/>
<path d="M44.5,163.76v-8.8M44.5,127.28v6.3M45.5,163.94v-9.8M47.5,127.81v4.8M50.5,164.48v-5.2M51.5,128.15v7.2M54.5,164.77v-5.5M54.5,128.35v4.1M55.5,164.83v-5.0M55.5,128.40v5.0M58.5,128.56v7.2M61.5,165.15v-8.2M64.5,165.27v-9.7M64.5,128.79v4.3M65.5,165.31v-8.7M68.5,165.40v-6.3M70.5,165.45v-8.7M70.5,128.95v5.6M72.5,165.50v-8.8M77.5,129.12v4.4M78.5,129.14v4.0M80.5,129.18v7.3M81.5,165.69v-7.0M81.5,129.20v4.8M82.5,165.71v-6.8M82.5,129.22v5.5M83.5,129.24v6.8M85.5,129.28v7.2M86.5,165.78v-9.8M87.5,165.80v-6.7M90.5,129.36v7.6M93.5,129.40v4.8M94.5,165.89v-6.1M96.5,165.92v-6.2M101.5,165.97v-9.5M102.5,129.49v5.0M106.5,129.50v8.0M111.5,129.52v5.9M114.5,166.06v-7.6M116.5,166.08v-8.1M118.5,129.54v4.5M121.5,166.11v-6.5M121.5,129.54v4.5M125.5,129.55v5.0M129.5,166.16v-6.0M129.5,129.56v5.1M132.5,129.57v4.1M134.5,129.57v4.2M136.5,166.20v-8.9M137.5,129.58v5.0M138.5,129.58v7.5M139.5,166.22v-9.1M139.5,129.58v5.5M143.5,129.59v7.3M144.5,129.60v7.1M146.5,129.60v4.3M150.5,129.61v7.5M152.5,166.30v-5.9M155.5,129.62v5.6M159.5,129.62v4.3M163.5,166.35v-7.5M165.5,166.36v-9.4M171.5,166.39v-8.1M173.5,129.64v4.5M175.5,166.41v-9.9M175.5,129.65v6.2M176.5,166.41v-5.8M177.5,166.42v-8.3M179.5,166.43v-8.0M180.5,166.43v-7.1M181.5,166.43v-9.5M184.5,166.45v-7.3M185.5,166.45v-7.0M189.5,129.66v7.9M191.5,166.47v-8.6M194.5,166.48v-8.3M194.5,129.67v4.6M198.5,166.50v-6.3M199.5,129.67v5.8M200.5,129.67v7.0M203.5,166.51v-8.1M204.5,129.68v6.4M207.5,166.52v-9.2M207.5,129.68v5.3M208.5,166.53v-6.0M210.5,166.53v-6.3M215.5,129.69v5.7M220.5,166.56v-8.6M220.5,129.69v6.4M221.5,166.56v-9.5M221.5,129.69v6.4M222.5,129.69v6.1M223.5,129.69v6.7M225.5,166.57v-5.7M227.5,129.69v6.5M231.5,166.58v-7.6M233.5,166.58v-9.1M236.5,129.70v5.3M237.5,166.59v-9.4M238.5,166.59v-8.7M238.5,129.70v7.2M242.5,129.70v6.2M244.5,129.70v5.1M245.5,129.70v5.1M247.5,129.70v5.7M248.5,129.70v6.3M249.5,166.60v-6.6M249.5,129.70v4.9M254.5,166.60v-5.7M255.5,166.60v-6.8" stroke="#fff" stroke-opacity="0.12" stroke-width="0.7" fill="none"/>
<path d="M39.4,179.26 L39.9,180.05 L40.4,180.77 L40.9,181.40 L41.4,181.88 L41.9,182.24 L42.4,182.54 L42.9,182.79 L43.4,182.99 L43.9,183.14 L44.4,183.27 L44.9,183.38 L45.4,183.49 L45.9,183.59 L46.4,183.68 L46.9,183.75 L47.4,183.82 L47.9,183.89 L48.4,183.94 L48.9,183.99 L49.4,184.03 L49.9,184.07 L50.4,184.11 L50.9,184.14 L51.4,184.18 L51.9,184.22 L52.4,184.25 L52.9,184.28 L53.4,184.31 L55.4,184.43 L57.4,184.53 L59.4,184.62 L61.4,184.70 L63.4,184.77 L65.3,184.83 L67.3,184.88 L69.3,184.93 L71.3,184.98 L73.3,185.03 L75.3,185.07 L77.3,185.11 L79.3,185.15 L81.3,185.19 L83.3,185.23 L85.3,185.26 L87.3,185.29 L89.3,185.32 L91.3,185.35 L93.3,185.38 L95.3,185.40 L97.3,185.43 L99.3,185.45 L101.3,185.47 L103.3,185.49 L105.3,185.50 L107.3,185.52 L109.3,185.53 L111.3,185.55 L113.3,185.57 L115.3,185.58 L117.3,185.60 L119.3,185.61 L121.3,185.63 L123.3,185.64 L125.3,185.66 L127.3,185.67 L129.3,185.68 L131.3,185.70 L133.3,185.71 L135.3,185.73 L137.3,185.74 L139.3,185.75 L141.3,185.77 L143.3,185.78 L145.3,185.79 L147.3,185.81 L149.3,185.82 L151.3,185.83 L153.3,185.85 L155.3,185.86 L157.3,185.87 L159.3,185.88 L161.3,185.89 L163.3,185.91 L165.3,185.92 L167.3,185.93 L169.3,185.94 L171.3,185.95 L173.3,185.96 L175.3,185.97 L177.3,185.98 L179.3,185.99 L181.3,186.00 L183.3,186.01 L185.3,186.02 L187.3,186.03 L189.3,186.04 L191.3,186.05 L193.3,186.05 L195.3,186.06 L197.3,186.07 L199.3,186.08 L201.3,186.09 L203.3,186.09 L205.3,186.10 L207.3,186.11 L209.3,186.11 L211.3,186.12 L213.3,186.13 L215.3,186.13 L217.3,186.14 L219.3,186.14 L221.3,186.15 L223.3,186.15 L225.3,186.16 L227.3,186.16 L229.3,186.17 L231.3,186.17 L233.3,186.18 L235.3,186.18 L237.3,186.18 L239.3,186.19 L241.3,186.19 L243.3,186.19 L245.3,186.19 L247.3,186.19 L249.3,186.20 L251.3,186.20 L253.3,186.20 L255.3,186.20 L257.4,186.20 L259.4,186.20 L259.9,186.20 L259.9,223.40 L259.4,223.40 L257.4,223.40 L255.3,223.40 L253.3,223.40 L251.3,223.40 L249.3,223.40 L247.3,223.39 L245.3,223.39 L243.3,223.39 L241.3,223.39 L239.3,223.39 L237.3,223.38 L235.3,223.38 L233.3,223.38 L231.3,223.37 L229.3,223.37 L227.3,223.36 L225.3,223.36 L223.3,223.35 L221.3,223.35 L219.3,223.34 L217.3,223.34 L215.3,223.33 L213.3,223.33 L211.3,223.32 L209.3,223.31 L207.3,223.31 L205.3,223.30 L203.3,223.29 L201.3,223.28 L199.3,223.27 L197.3,223.27 L195.3,223.26 L193.3,223.25 L191.3,223.24 L189.3,223.23 L187.3,223.22 L185.3,223.21 L183.3,223.20 L181.3,223.19 L179.3,223.18 L177.3,223.17 L175.3,223.16 L173.3,223.15 L171.3,223.13 L169.3,223.12 L167.3,223.11 L165.3,223.10 L163.3,223.08 L161.3,223.07 L159.3,223.06 L157.3,223.04 L155.3,223.03 L153.3,223.02 L151.3,223.00 L149.3,222.99 L147.3,222.97 L145.3,222.96 L143.3,222.94 L141.3,222.93 L139.3,222.91 L137.3,222.89 L135.3,222.88 L133.3,222.86 L131.3,222.84 L129.3,222.83 L127.3,222.81 L125.3,222.79 L123.3,222.77 L121.3,222.76 L119.3,222.74 L117.3,222.72 L115.3,222.70 L113.3,222.68 L111.3,222.66 L109.3,222.64 L107.3,222.62 L105.3,222.60 L103.3,222.58 L101.3,222.56 L99.3,222.53 L97.3,222.50 L95.3,222.46 L93.3,222.42 L91.3,222.37 L89.3,222.33 L87.3,222.28 L85.3,222.22 L83.3,222.16 L81.3,222.10 L79.3,222.04 L77.3,221.97 L75.3,221.90 L73.3,221.82 L71.3,221.74 L69.3,221.66 L67.3,221.57 L65.3,221.47 L63.4,221.35 L61.4,221.21 L59.4,221.05 L57.4,220.88 L55.4,220.69 L53.4,220.49 L52.9,220.44 L52.4,220.38 L51.9,220.33 L51.4,220.27 L50.9,220.22 L50.4,220.16 L49.9,220.10 L49.4,220.04 L48.9,219.98 L48.4,219.92 L47.9,219.87 L47.4,219.81 L46.9,219.74 L46.4,219.67 L45.9,219.59 L45.4,219.50 L44.9,219.40 L44.4,219.28 L43.9,219.14 L43.4,218.96 L42.9,218.66 L42.4,218.28 L41.9,217.83 L41.4,217.35 L40.9,216.78 L40.4,216.11 L39.9,215.36 L39.4,214.55Z" fill="#ff8000"/>
<path d="M43.5,183.46v4.0M43.5,218.16v-8.5M44.5,183.78v2.8M44.5,218.59v-7.7M45.5,184.02v2.6M45.5,218.83v-7.2M46.5,184.21v4.1M47.5,184.38v2.5M48.5,184.50v3.0M48.5,219.28v-8.5M49.5,184.60v3.6M49.5,219.40v-6.4M51.5,184.76v2.7M51.5,219.63v-7.6M53.5,184.89v2.6M53.5,219.85v-3.7M54.5,184.95v3.8M54.5,219.96v-3.3M55.5,220.06v-5.3M56.5,185.07v3.9M56.5,220.16v-4.2M57.5,220.25v-5.9M59.5,185.21v3.7M59.5,220.42v-6.6M60.5,185.25v3.6M60.5,220.51v-8.0M61.5,185.29v2.4M61.5,220.58v-8.7M62.5,185.32v3.6M63.5,185.36v2.7M63.5,220.72v-3.3M64.5,185.39v4.7M64.5,220.79v-6.8M68.5,185.50v3.0M68.5,221.00v-5.9M69.5,185.53v3.6M70.5,185.55v3.1M70.5,221.08v-6.9M72.5,185.60v2.8M72.5,221.17v-8.0M73.5,221.21v-3.1M74.5,221.24v-3.9M76.5,185.69v4.3M77.5,185.71v3.7M77.5,221.36v-6.1M78.5,185.73v4.9M78.5,221.39v-7.9M79.5,185.75v4.3M79.5,221.42v-7.3M80.5,185.77v4.4M82.5,185.80v3.2M82.5,221.52v-4.0M83.5,221.55v-3.7M84.5,185.84v2.2M84.5,221.58v-3.0M86.5,185.87v3.1M86.5,221.64v-4.5M88.5,221.69v-7.5M89.5,185.92v4.6M89.5,221.72v-4.7M91.5,185.95v2.7M92.5,185.96v4.0M92.5,221.79v-5.1M94.5,185.99v3.0M96.5,186.01v4.4M98.5,186.03v3.0M98.5,221.91v-3.5M99.5,186.04v3.8M99.5,221.92v-6.4M100.5,186.06v4.4M100.5,221.94v-3.4M102.5,186.07v4.6M102.5,221.97v-3.7M104.5,186.09v3.2M105.5,186.10v3.2M106.5,186.11v3.8M106.5,222.01v-6.3M107.5,186.12v3.0M107.5,222.02v-4.1M108.5,186.12v2.3M108.5,222.03v-5.9M110.5,186.14v3.8M110.5,222.05v-3.2M111.5,186.15v2.8M111.5,222.06v-7.6M112.5,186.16v3.8M112.5,222.07v-6.9M114.5,186.17v3.5M114.5,222.09v-6.9M115.5,222.10v-4.7M117.5,186.19v4.9M117.5,222.12v-8.7M119.5,186.21v4.5M119.5,222.14v-3.0M120.5,186.22v2.6M121.5,186.22v2.5M121.5,222.15v-3.4M122.5,186.23v3.9M122.5,222.16v-4.8M123.5,186.24v3.7M123.5,222.17v-4.2M124.5,222.18v-3.3M125.5,186.25v3.9M125.5,222.19v-5.1M127.5,186.27v3.0M129.5,186.28v2.8M129.5,222.22v-5.6M130.5,186.29v3.0M130.5,222.23v-3.6M131.5,186.30v4.7M131.5,222.24v-5.7M132.5,222.25v-7.8M133.5,186.31v2.6M133.5,222.26v-7.5M134.5,186.32v3.6M134.5,222.27v-5.5M136.5,186.33v3.3M136.5,222.28v-7.2M137.5,186.34v4.9M137.5,222.29v-4.4M138.5,186.35v3.6M138.5,222.30v-8.2M139.5,186.35v3.6M139.5,222.31v-5.7M140.5,186.36v2.5M140.5,222.32v-7.7M141.5,222.32v-7.9M142.5,186.37v3.7M142.5,222.33v-3.4M144.5,186.39v2.1M144.5,222.35v-8.6M145.5,222.35v-4.0M146.5,186.40v5.0M146.5,222.36v-3.4M147.5,186.41v4.4M147.5,222.37v-6.4M149.5,186.42v5.0M149.5,222.38v-7.4M150.5,186.42v2.1M151.5,186.43v3.3M151.5,222.40v-5.3M153.5,186.44v3.8M153.5,222.41v-6.9M154.5,186.45v2.7M156.5,186.46v3.2M156.5,222.43v-6.2M157.5,186.47v2.4M158.5,186.47v4.7M158.5,222.45v-8.8M160.5,186.49v3.9M160.5,222.46v-4.9M161.5,186.49v4.0M161.5,222.47v-6.8M163.5,186.50v4.2M163.5,222.48v-7.0M167.5,186.53v4.8M167.5,222.51v-3.6M169.5,222.52v-7.1M170.5,186.54v4.7M170.5,222.53v-3.5M171.5,186.55v3.8M173.5,186.56v5.0M173.5,222.54v-5.0M175.5,186.57v3.7M175.5,222.56v-4.6M176.5,186.57v4.8M176.5,222.56v-4.9M177.5,186.58v3.5M177.5,222.57v-5.1M179.5,186.59v2.4M179.5,222.58v-4.1M180.5,186.59v2.5M180.5,222.58v-7.8M182.5,186.60v2.6M183.5,186.61v3.3M183.5,222.60v-6.2M184.5,222.60v-7.3M185.5,186.62v4.6M185.5,222.61v-8.0M187.5,186.63v3.7M187.5,222.62v-8.2M188.5,222.62v-5.2M190.5,186.64v2.5M191.5,186.64v4.4M192.5,186.65v2.7M192.5,222.64v-4.4M193.5,186.65v4.2M193.5,222.65v-7.8M195.5,186.66v2.8M197.5,186.67v3.5M197.5,222.67v-6.4M199.5,222.67v-5.5M200.5,186.68v3.5M200.5,222.68v-3.6M201.5,186.69v4.4M201.5,222.68v-6.3M203.5,186.69v3.9M204.5,186.70v3.0M204.5,222.69v-5.5M206.5,186.70v3.7M206.5,222.70v-5.7M207.5,186.71v4.6M207.5,222.70v-7.6M208.5,186.71v2.3M208.5,222.71v-8.9M210.5,186.72v2.6M211.5,186.72v3.5M213.5,186.73v2.0M213.5,222.72v-3.2M214.5,186.73v4.3M214.5,222.73v-8.7M215.5,186.73v3.5M215.5,222.73v-8.0M217.5,186.74v2.5M217.5,222.74v-3.2M218.5,186.74v2.1M219.5,222.74v-6.2M221.5,222.75v-4.4M222.5,186.75v4.4M222.5,222.75v-4.7M223.5,222.75v-3.3M224.5,186.76v4.2M226.5,186.76v3.5M226.5,222.76v-5.9M227.5,222.76v-6.7M228.5,186.77v3.4M228.5,222.77v-8.1M229.5,186.77v3.8M229.5,222.77v-6.2M231.5,186.77v4.4M231.5,222.77v-8.8M232.5,186.77v4.9M233.5,222.78v-4.8M235.5,186.78v2.6M235.5,222.78v-8.1M236.5,186.78v2.1M236.5,222.78v-4.1M238.5,222.78v-3.2M239.5,186.79v3.0M239.5,222.79v-4.7M240.5,186.79v2.6M240.5,222.79v-6.5M241.5,222.79v-4.5M243.5,186.79v3.1M243.5,222.79v-6.5M245.5,186.79v3.7M245.5,222.79v-4.8M247.5,186.79v4.0M249.5,222.80v-5.5M250.5,186.80v2.5M250.5,222.80v-3.8M252.5,186.80v4.4M253.5,222.80v-7.6M254.5,186.80v4.8M254.5,222.80v-4.7M255.5,186.80v4.4M255.5,222.80v-6.4M257.5,186.80v3.7M257.5,222.80v-6.3M258.5,186.80v3.5M258.5,222.80v-4.6" stroke="#fff" stroke-opacity="0.21" stroke-width="0.8" fill="none"/>
<path d="M44.5,218.59v-6.2M45.5,218.83v-5.9M46.5,219.02v-8.6M46.5,184.21v5.2M48.5,184.50v5.8M56.5,220.16v-7.9M56.5,185.07v5.5M57.5,220.25v-5.6M59.5,220.42v-6.1M60.5,185.25v4.5M63.5,185.36v3.5M64.5,220.79v-9.8M66.5,220.90v-8.2M68.5,221.00v-7.9M69.5,185.53v3.9M70.5,221.08v-6.5M72.5,221.17v-6.5M83.5,185.82v3.6M86.5,221.64v-8.7M86.5,185.87v4.2M89.5,185.92v4.0M91.5,221.77v-8.2M92.5,221.79v-5.7M93.5,221.81v-7.5M93.5,185.97v4.2M94.5,185.99v5.9M97.5,221.89v-5.4M99.5,221.92v-9.3M105.5,186.10v3.9M106.5,222.01v-5.8M108.5,222.03v-7.9M112.5,222.07v-8.6M112.5,186.16v3.8M114.5,186.17v3.1M119.5,186.21v4.2M120.5,186.22v4.6M121.5,186.22v5.9M122.5,222.16v-5.4M122.5,186.23v5.6M123.5,222.17v-10.0M124.5,186.25v5.6M127.5,186.27v3.8M129.5,222.22v-5.2M131.5,222.24v-9.7M133.5,222.26v-5.5M133.5,186.31v4.1M134.5,222.27v-7.7M136.5,186.33v3.6M138.5,222.30v-8.0M138.5,186.35v4.0M139.5,186.35v3.4M141.5,186.37v4.7M144.5,186.39v3.4M145.5,186.39v4.9M146.5,186.40v5.6M147.5,222.37v-8.9M147.5,186.41v3.0M148.5,186.41v3.7M149.5,222.38v-8.4M149.5,186.42v4.0M151.5,222.40v-5.8M153.5,222.41v-6.8M157.5,186.47v4.1M158.5,222.45v-9.5M158.5,186.47v4.1M160.5,222.46v-5.3M161.5,222.47v-9.3M161.5,186.49v4.2M165.5,186.51v3.1M169.5,186.54v4.4M176.5,222.56v-6.8M177.5,222.57v-5.9M179.5,222.58v-7.6M179.5,186.59v4.4M180.5,222.58v-9.3M183.5,186.61v5.3M185.5,222.61v-5.7M188.5,222.62v-7.1M188.5,186.63v4.3M193.5,222.65v-5.4M193.5,186.65v3.9M195.5,186.66v3.3M197.5,222.67v-7.9M204.5,222.69v-5.3M206.5,222.70v-9.2M207.5,222.70v-5.5M208.5,222.71v-5.7M210.5,222.72v-5.9M211.5,222.72v-7.6M213.5,222.72v-5.8M214.5,222.73v-5.6M218.5,222.74v-7.8M221.5,186.75v5.5M222.5,222.75v-9.2M222.5,186.75v3.7M224.5,222.76v-9.1M226.5,186.76v3.7M231.5,186.77v5.5M232.5,222.77v-7.7M232.5,186.77v5.2M235.5,222.78v-6.7M238.5,222.78v-6.6M238.5,186.78v4.3M239.5,222.79v-6.6M239.5,186.79v4.9M240.5,222.79v-9.0M243.5,222.79v-8.3M249.5,186.80v3.2M250.5,222.80v-5.1M250.5,186.80v5.7M253.5,222.80v-7.8M255.5,222.80v-5.8M255.5,186.80v3.5M257.5,222.80v-8.4M257.5,186.80v5.4" stroke="#fff" stroke-opacity="0.12" stroke-width="0.7" fill="none"/>
<g font-size="8.45" text-anchor="end" stroke="#000" stroke-width="0.2">
<text transform="translate(35.2,12.95) scale(1,1.07)">50</text>
<text transform="translate(35.2,27.25) scale(1,1.07)">25</text>
<text transform="translate(35.2,41.55) scale(1,1.07)">0</text>
<text transform="translate(35.2,55.85) scale(1,1.07)">−25</text>
<text transform="translate(35.2,74.95) scale(1,1.07)">66</text>
<text transform="translate(35.2,89.15) scale(1,1.07)">33</text>
<text transform="translate(35.2,103.35) scale(1,1.07)">0</text>
<text transform="translate(35.2,117.65) scale(1,1.07)">−33</text>
<text transform="translate(35.2,131.60) scale(1,1.07)">76</text>
<text transform="translate(35.2,145.50) scale(1,1.07)">38</text>
<text transform="translate(35.2,159.50) scale(1,1.07)">0</text>
<text transform="translate(35.2,173.40) scale(1,1.07)">−38</text>
<text transform="translate(35.2,187.65) scale(1,1.07)">84</text>
<text transform="translate(35.2,201.75) scale(1,1.07)">42</text>
<text transform="translate(35.2,215.85) scale(1,1.07)">0</text>
<text transform="translate(35.2,229.95) scale(1,1.07)">−42</text>
</g>
<g font-size="8.45" text-anchor="middle" stroke="#000" stroke-width="0.2">
<text transform="translate(39.5,242.6) scale(1,1.07)">0</text>
<text transform="translate(94.1,242.6) scale(1,1.07)">50</text>
<text transform="translate(150.0,242.6) scale(1,1.07)">100</text>
<text transform="translate(205.1,242.6) scale(1,1.07)">150</text>
<text transform="translate(259.5,242.6) scale(1,1.07)">200</text>
</g>
<rect x="172.3" y="32.0" width="86.8" height="14.0" fill="#fff" stroke="#333" stroke-width="0.6"/>
<path d="M174.1,39.0h24.2" stroke="#ff0000" stroke-width="1.15"/>
<text x="257.1" y="42.8" font-size="10.55" text-anchor="end" stroke="#000" stroke-width="0.2">4 wt.% CNT</text>
<rect x="172.3" y="87.4" width="86.8" height="14.8" fill="#fff" stroke="#333" stroke-width="0.6"/>
<path d="M174.1,94.8h24.2" stroke="#00ff00" stroke-width="1.15"/>
<text x="257.1" y="98.6" font-size="10.55" text-anchor="end" stroke="#000" stroke-width="0.2">5 wt.% CNT</text>
<rect x="172.3" y="141.0" width="86.8" height="15.0" fill="#fff" stroke="#333" stroke-width="0.6"/>
<path d="M174.1,148.5h24.2" stroke="#0000ff" stroke-width="1.15"/>
<text x="257.1" y="152.3" font-size="10.55" text-anchor="end" stroke="#000" stroke-width="0.2">6 wt.% CNT</text>
<rect x="172.3" y="198.6" width="86.8" height="14.4" fill="#fff" stroke="#333" stroke-width="0.6"/>
<path d="M174.1,205.8h24.2" stroke="#ff8000" stroke-width="1.15"/>
<text x="257.1" y="209.6" font-size="10.55" text-anchor="end" stroke="#000" stroke-width="0.2">7 wt.% CNT</text>
<text x="149.3" y="261.3" font-size="12.45" font-weight="bold" text-anchor="middle">Number of cycles</text>
<text transform="translate(12.4,125) rotate(-90)" font-size="12.3" font-weight="bold" text-anchor="middle">Force (N)</text>
<text x="135" y="287" font-size="12.7" text-anchor="middle" font-family="'Liberation Serif', serif">(<tspan font-weight="bold">a</tspan>)</text>
<g stroke="#000" stroke-width="0.95" fill="none">
<path d="M378.0,6.9v3.6M432.5,6.9v3.6M487.0,6.9v3.6M350.8,6.9v2.2M405.2,6.9v2.2M459.8,6.9v2.2M514.2,6.9v2.2M378.0,63.2v-3.6M432.5,63.2v-3.6M487.0,63.2v-3.6M350.8,63.2v-2.2M405.2,63.2v-2.2M459.8,63.2v-2.2M514.2,63.2v-2.2M378.0,120.4v-3.6M432.5,120.4v-3.6M487.0,120.4v-3.6M350.8,120.4v-2.2M405.2,120.4v-2.2M459.8,120.4v-2.2M514.2,120.4v-2.2M378.0,175.4v-3.6M432.5,175.4v-3.6M487.0,175.4v-3.6M350.8,175.4v-2.2M405.2,175.4v-2.2M459.8,175.4v-2.2M514.2,175.4v-2.2M378.0,231.3v-3.6M432.5,231.3v-3.6M487.0,231.3v-3.6M350.8,231.3v-2.2M405.2,231.3v-2.2M459.8,231.3v-2.2M514.2,231.3v-2.2M323.5,8.4h4M541.5,8.4h-4M323.5,22.2h4M541.5,22.2h-4M323.5,36.1h4M541.5,36.1h-4M323.5,50.0h4M541.5,50.0h-4M323.5,71.5h4M541.5,71.5h-4M323.5,85.8h4M541.5,85.8h-4M323.5,100.0h4M541.5,100.0h-4M323.5,114.3h4M541.5,114.3h-4M323.5,129.4h4M541.5,129.4h-4M323.5,143.2h4M541.5,143.2h-4M323.5,157.2h4M541.5,157.2h-4M323.5,171.0h4M541.5,171.0h-4M323.5,180.6h4M541.5,180.6h-4M323.5,194.3h4M541.5,194.3h-4M323.5,208.3h4M541.5,208.3h-4M323.5,222.3h4M541.5,222.3h-4M323.5,15.3h2.4M541.5,15.3h-2.4M323.5,29.2h2.4M541.5,29.2h-2.4M323.5,43.0h2.4M541.5,43.0h-2.4M323.5,57.0h2.4M541.5,57.0h-2.4M323.5,78.6h2.4M541.5,78.6h-2.4M323.5,92.9h2.4M541.5,92.9h-2.4M323.5,107.1h2.4M541.5,107.1h-2.4M323.5,122.5h2.4M541.5,122.5h-2.4M323.5,136.3h2.4M541.5,136.3h-2.4M323.5,150.2h2.4M541.5,150.2h-2.4M323.5,164.1h2.4M541.5,164.1h-2.4M323.5,187.5h2.4M541.5,187.5h-2.4M323.5,201.3h2.4M541.5,201.3h-2.4M323.5,215.3h2.4M541.5,215.3h-2.4M323.5,229.0h2.4M541.5,229.0h-2.4"/>
</g>
<path d="M323.5,26.40 L324.0,26.43 L324.5,26.46 L325.0,26.50 L325.5,26.53 L326.0,26.56 L326.5,26.59 L327.0,26.62 L327.5,26.65 L328.0,26.68 L328.5,26.72 L329.0,26.75 L329.5,26.78 L330.0,26.81 L330.5,26.84 L331.0,26.87 L331.5,26.90 L332.0,26.93 L332.5,26.96 L333.0,26.99 L333.5,27.02 L334.0,27.05 L334.5,27.07 L335.0,27.10 L335.5,27.13 L336.0,27.16 L336.5,27.19 L337.0,27.21 L337.5,27.24 L339.5,27.35 L341.5,27.44 L343.5,27.54 L345.5,27.62 L347.5,27.70 L349.5,27.79 L351.5,27.87 L353.5,27.95 L355.5,28.03 L357.5,28.12 L359.5,28.19 L361.5,28.27 L363.5,28.35 L365.5,28.42 L367.5,28.49 L369.5,28.56 L371.5,28.62 L373.5,28.68 L375.5,28.74 L377.5,28.79 L379.5,28.84 L381.5,28.88 L383.5,28.92 L385.5,28.95 L387.5,28.98 L389.5,29.00 L391.5,29.01 L393.5,29.02 L395.5,29.04 L397.5,29.05 L399.5,29.06 L401.5,29.08 L403.5,29.09 L405.5,29.10 L407.5,29.11 L409.5,29.12 L411.5,29.13 L413.5,29.14 L415.5,29.15 L417.5,29.15 L419.5,29.16 L421.5,29.17 L423.5,29.18 L425.5,29.18 L427.5,29.19 L429.5,29.19 L431.5,29.19 L433.5,29.20 L435.5,29.20 L437.5,29.20 L439.5,29.20 L441.5,29.20 L443.5,29.20 L445.5,29.20 L447.5,29.20 L449.5,29.20 L451.5,29.20 L453.5,29.20 L455.5,29.20 L457.5,29.20 L459.5,29.20 L461.5,29.20 L463.5,29.20 L465.5,29.20 L467.5,29.20 L469.5,29.20 L471.5,29.19 L473.5,29.19 L475.5,29.19 L477.5,29.19 L479.5,29.19 L481.5,29.19 L483.5,29.18 L485.5,29.18 L487.5,29.18 L489.5,29.18 L491.5,29.17 L493.5,29.17 L495.5,29.17 L497.5,29.16 L499.5,29.16 L501.5,29.16 L503.5,29.15 L505.5,29.15 L507.5,29.14 L509.5,29.14 L511.5,29.13 L513.5,29.12 L515.5,29.12 L517.5,29.11 L519.5,29.10 L521.5,29.10 L523.5,29.09 L525.5,29.08 L527.5,29.07 L529.5,29.06 L531.5,29.05 L533.5,29.04 L535.5,29.03 L537.5,29.02 L539.5,29.01 L540.6,29.01 L540.6,59.00 L539.5,59.01 L537.5,59.01 L535.5,59.02 L533.5,59.03 L531.5,59.03 L529.5,59.04 L527.5,59.04 L525.5,59.05 L523.5,59.06 L521.5,59.06 L519.5,59.07 L517.5,59.07 L515.5,59.08 L513.5,59.08 L511.5,59.09 L509.5,59.10 L507.5,59.10 L505.5,59.11 L503.5,59.11 L501.5,59.12 L499.5,59.12 L497.5,59.13 L495.5,59.13 L493.5,59.14 L491.5,59.14 L489.5,59.14 L487.5,59.15 L485.5,59.15 L483.5,59.16 L481.5,59.16 L479.5,59.16 L477.5,59.17 L475.5,59.17 L473.5,59.17 L471.5,59.18 L469.5,59.18 L467.5,59.18 L465.5,59.18 L463.5,59.19 L461.5,59.19 L459.5,59.19 L457.5,59.19 L455.5,59.19 L453.5,59.20 L451.5,59.20 L449.5,59.20 L447.5,59.20 L445.5,59.20 L443.5,59.20 L441.5,59.20 L439.5,59.20 L437.5,59.20 L435.5,59.20 L433.5,59.20 L431.5,59.20 L429.5,59.20 L427.5,59.20 L425.5,59.20 L423.5,59.20 L421.5,59.20 L419.5,59.20 L417.5,59.20 L415.5,59.20 L413.5,59.20 L411.5,59.20 L409.5,59.20 L407.5,59.20 L405.5,59.20 L403.5,59.20 L401.5,59.20 L399.5,59.20 L397.5,59.20 L395.5,59.20 L393.5,59.20 L391.5,59.20 L389.5,59.20 L387.5,59.20 L385.5,59.20 L383.5,59.20 L381.5,59.18 L379.5,59.14 L377.5,59.10 L375.5,59.04 L373.5,58.97 L371.5,58.89 L369.5,58.80 L367.5,58.70 L365.5,58.60 L363.5,58.49 L361.5,58.37 L359.5,58.25 L357.5,58.13 L355.5,58.00 L353.5,57.88 L351.5,57.75 L349.5,57.63 L347.5,57.50 L345.5,57.38 L343.5,57.26 L341.5,57.12 L339.5,56.97 L337.5,56.81 L337.0,56.77 L336.5,56.73 L336.0,56.69 L335.5,56.64 L335.0,56.60 L334.5,56.56 L334.0,56.51 L333.5,56.47 L333.0,56.42 L332.5,56.37 L332.0,56.33 L331.5,56.28 L331.0,56.23 L330.5,56.18 L330.0,56.13 L329.5,56.07 L329.0,56.02 L328.5,55.97 L328.0,55.91 L327.5,55.86 L327.0,55.80 L326.5,55.75 L326.0,55.69 L325.5,55.64 L325.0,55.58 L324.5,55.52 L324.0,55.46 L323.5,55.40Z" fill="#ff0000"/>
<path d="M330.5,55.53v-1.9M332.5,55.73v-4.0M336.5,56.09v-2.3M337.5,56.17v-5.2M338.5,56.25v-2.6M339.5,56.33v-4.4M341.5,56.48v-5.6M343.5,56.62v-3.7M345.5,56.75v-5.1M346.5,56.81v-3.6M347.5,56.87v-2.6M349.5,56.99v-5.4M350.5,57.06v-3.5M352.5,57.18v-4.4M354.5,57.31v-2.0M355.5,57.37v-2.3M357.5,57.50v-5.0M358.5,57.56v-2.8M359.5,57.62v-4.1M361.5,57.74v-1.6M363.5,57.86v-1.7M364.5,57.91v-5.0M370.5,58.22v-3.1M372.5,58.31v-3.0M373.5,58.35v-5.8M374.5,58.39v-3.2M375.5,58.42v-4.8M376.5,58.45v-5.0M377.5,58.48v-3.2M378.5,58.51v-2.9M382.5,58.58v-3.8M384.5,58.60v-5.9M386.5,58.60v-1.7M387.5,58.60v-1.8M388.5,58.60v-3.5M390.5,58.60v-4.9M394.5,58.60v-5.2M396.5,58.60v-3.6M397.5,58.60v-4.2M398.5,58.60v-5.3M400.5,58.60v-1.9M401.5,58.60v-3.0M402.5,58.60v-4.8M404.5,58.60v-4.9M408.5,58.60v-3.9M409.5,58.60v-5.7M411.5,58.60v-4.8M413.5,58.60v-2.5M414.5,58.60v-5.8M416.5,58.60v-5.4M418.5,58.60v-3.3M420.5,58.60v-4.0M421.5,58.60v-2.1M423.5,58.60v-4.3M425.5,58.60v-2.6M426.5,58.60v-4.0M427.5,58.60v-4.9M428.5,58.60v-1.5M429.5,58.60v-5.2M432.5,58.60v-2.7M433.5,58.60v-1.5M434.5,58.60v-3.2M435.5,58.60v-3.6M437.5,58.60v-5.2M438.5,58.60v-5.0M439.5,58.60v-4.3M441.5,58.60v-5.0M442.5,58.60v-3.2M443.5,58.60v-5.2M445.5,58.60v-1.7M447.5,58.60v-2.7M449.5,58.60v-3.2M452.5,58.60v-2.3M453.5,58.60v-2.5M455.5,58.59v-2.6M456.5,58.59v-5.7M457.5,58.59v-2.9M459.5,58.59v-1.5M460.5,58.59v-1.6M461.5,58.59v-2.9M462.5,58.59v-4.8M463.5,58.59v-2.1M465.5,58.58v-2.8M467.5,58.58v-5.3M469.5,58.58v-1.9M470.5,58.58v-2.9M471.5,58.58v-2.7M473.5,58.57v-3.4M475.5,58.57v-1.9M478.5,58.57v-2.3M480.5,58.56v-3.9M481.5,58.56v-4.0M484.5,58.55v-3.8M486.5,58.55v-3.3M487.5,58.55v-5.0M488.5,58.55v-5.1M490.5,58.54v-2.2M491.5,58.54v-3.9M492.5,58.54v-3.4M495.5,58.53v-2.5M496.5,58.53v-1.5M498.5,58.52v-5.0M502.5,58.52v-5.6M504.5,58.51v-2.8M506.5,58.51v-4.4M509.5,58.50v-5.3M511.5,58.49v-2.9M513.5,58.49v-2.0M515.5,58.48v-5.2M518.5,58.47v-2.6M520.5,58.47v-3.0M521.5,58.46v-5.7M522.5,58.46v-4.8M523.5,58.46v-4.2M524.5,58.45v-3.6M525.5,58.45v-4.8M526.5,58.45v-4.8M528.5,58.44v-1.8M531.5,58.43v-2.1M533.5,58.43v-5.1M534.5,58.42v-4.3M535.5,58.42v-5.2M537.5,58.41v-5.1M538.5,58.41v-3.1M539.5,58.41v-5.6" stroke="#fff" stroke-opacity="0.20" stroke-width="0.8" fill="none"/>
<path d="M345.5,56.75v-7.8M346.5,56.81v-7.7M350.5,57.06v-12.6M367.5,58.08v-8.0M370.5,58.22v-12.6M373.5,58.35v-9.2M375.5,58.42v-12.5M377.5,58.48v-10.1M378.5,58.51v-10.8M386.5,58.60v-10.1M387.5,58.60v-8.8M390.5,58.60v-14.5M398.5,58.60v-8.1M400.5,58.60v-15.4M402.5,58.60v-9.5M413.5,58.60v-12.6M422.5,58.60v-6.7M423.5,58.60v-11.3M425.5,58.60v-14.7M426.5,58.60v-7.9M429.5,58.60v-9.1M431.5,58.60v-14.0M434.5,58.60v-14.1M437.5,58.60v-11.3M438.5,58.60v-12.7M448.5,58.60v-10.1M449.5,58.60v-9.8M452.5,58.60v-15.6M453.5,58.60v-10.9M460.5,58.59v-8.1M467.5,58.58v-11.2M475.5,58.57v-7.4M488.5,58.55v-7.5M494.5,58.53v-15.0M501.5,58.52v-15.8M504.5,58.51v-12.8M509.5,58.50v-9.7M511.5,58.49v-10.6M513.5,58.49v-10.0M518.5,58.47v-13.6M520.5,58.47v-15.0M521.5,58.46v-10.2M524.5,58.45v-9.1M530.5,58.44v-13.9M532.5,58.43v-12.1M538.5,58.41v-12.5" stroke="#fff" stroke-opacity="0.11" stroke-width="0.7" fill="none"/>
<path d="M323.5,70.30 L324.0,70.85 L324.5,71.39 L325.0,71.90 L325.5,72.36 L326.0,72.75 L326.5,73.05 L327.0,73.31 L327.5,73.55 L328.0,73.77 L328.5,73.97 L329.0,74.15 L329.5,74.33 L330.0,74.49 L330.5,74.64 L331.0,74.79 L331.5,74.93 L332.0,75.06 L332.5,75.19 L333.0,75.33 L333.5,75.46 L334.0,75.59 L334.5,75.71 L335.0,75.83 L335.5,75.95 L336.0,76.07 L336.5,76.19 L337.0,76.30 L337.5,76.41 L339.5,76.83 L341.5,77.21 L343.5,77.55 L345.5,77.86 L347.5,78.13 L349.5,78.37 L351.5,78.59 L353.5,78.80 L355.5,78.99 L357.5,79.19 L359.5,79.38 L361.5,79.56 L363.5,79.73 L365.5,79.90 L367.5,80.07 L369.5,80.23 L371.5,80.40 L373.5,80.57 L375.5,80.74 L377.5,80.92 L379.5,81.09 L381.5,81.26 L383.5,81.43 L385.5,81.59 L387.5,81.74 L389.5,81.89 L391.5,82.04 L393.5,82.18 L395.5,82.32 L397.5,82.46 L399.5,82.59 L401.5,82.73 L403.5,82.86 L405.5,82.99 L407.5,83.11 L409.5,83.23 L411.5,83.35 L413.5,83.46 L415.5,83.57 L417.5,83.68 L419.5,83.78 L421.5,83.87 L423.5,83.97 L425.5,84.06 L427.5,84.15 L429.5,84.23 L431.5,84.31 L433.5,84.39 L435.5,84.46 L437.5,84.53 L439.5,84.59 L441.5,84.64 L443.5,84.70 L445.5,84.75 L447.5,84.80 L449.5,84.85 L451.5,84.90 L453.5,84.95 L455.5,84.99 L457.5,85.03 L459.5,85.08 L461.5,85.12 L463.5,85.16 L465.5,85.19 L467.5,85.23 L469.5,85.26 L471.5,85.29 L473.5,85.32 L475.5,85.35 L477.5,85.37 L479.5,85.39 L481.5,85.42 L483.5,85.44 L485.5,85.46 L487.5,85.48 L489.5,85.49 L491.5,85.51 L493.5,85.53 L495.5,85.55 L497.5,85.57 L499.5,85.59 L501.5,85.61 L503.5,85.62 L505.5,85.64 L507.5,85.65 L509.5,85.67 L511.5,85.68 L513.5,85.70 L515.5,85.71 L517.5,85.72 L519.5,85.73 L521.5,85.75 L523.5,85.76 L525.5,85.76 L527.5,85.77 L529.5,85.78 L531.5,85.79 L533.5,85.79 L535.5,85.79 L537.5,85.80 L539.5,85.80 L540.6,85.80 L540.6,110.79 L539.5,110.78 L537.5,110.75 L535.5,110.72 L533.5,110.69 L531.5,110.66 L529.5,110.63 L527.5,110.59 L525.5,110.55 L523.5,110.51 L521.5,110.47 L519.5,110.43 L517.5,110.39 L515.5,110.34 L513.5,110.30 L511.5,110.25 L509.5,110.20 L507.5,110.15 L505.5,110.10 L503.5,110.05 L501.5,109.99 L499.5,109.94 L497.5,109.88 L495.5,109.82 L493.5,109.77 L491.5,109.71 L489.5,109.65 L487.5,109.59 L485.5,109.53 L483.5,109.47 L481.5,109.40 L479.5,109.34 L477.5,109.28 L475.5,109.21 L473.5,109.15 L471.5,109.08 L469.5,109.02 L467.5,108.95 L465.5,108.88 L463.5,108.81 L461.5,108.73 L459.5,108.66 L457.5,108.58 L455.5,108.50 L453.5,108.42 L451.5,108.33 L449.5,108.24 L447.5,108.15 L445.5,108.06 L443.5,107.96 L441.5,107.87 L439.5,107.76 L437.5,107.66 L435.5,107.55 L433.5,107.44 L431.5,107.33 L429.5,107.21 L427.5,107.09 L425.5,106.97 L423.5,106.83 L421.5,106.69 L419.5,106.53 L417.5,106.36 L415.5,106.18 L413.5,105.99 L411.5,105.80 L409.5,105.60 L407.5,105.40 L405.5,105.19 L403.5,104.99 L401.5,104.78 L399.5,104.57 L397.5,104.37 L395.5,104.16 L393.5,103.97 L391.5,103.78 L389.5,103.59 L387.5,103.41 L385.5,103.25 L383.5,103.08 L381.5,102.92 L379.5,102.75 L377.5,102.58 L375.5,102.40 L373.5,102.21 L371.5,102.00 L369.5,101.77 L367.5,101.53 L365.5,101.27 L363.5,100.99 L361.5,100.71 L359.5,100.42 L357.5,100.12 L355.5,99.83 L353.5,99.53 L351.5,99.21 L349.5,98.88 L347.5,98.52 L345.5,98.14 L343.5,97.74 L341.5,97.32 L339.5,96.87 L337.5,96.37 L337.0,96.24 L336.5,96.11 L336.0,95.97 L335.5,95.82 L335.0,95.67 L334.5,95.52 L334.0,95.36 L333.5,95.20 L333.0,95.03 L332.5,94.86 L332.0,94.69 L331.5,94.52 L331.0,94.33 L330.5,94.14 L330.0,93.94 L329.5,93.72 L329.0,93.48 L328.5,93.21 L328.0,92.93 L327.5,92.61 L327.0,92.26 L326.5,91.88 L326.0,91.40 L325.5,90.74 L325.0,89.92 L324.5,89.00 L324.0,88.01 L323.5,87.00Z" fill="#00ff00"/>
<path d="M327.5,91.66v-2.3M329.5,92.88v-1.5M330.5,93.34v-2.0M331.5,93.73v-2.6M332.5,94.09v-4.0M333.5,94.43v-1.9M334.5,94.76v-2.3M335.5,95.07v-3.6M337.5,95.64v-2.2M340.5,96.39v-1.8M341.5,96.61v-3.9M343.5,97.04v-3.4M346.5,97.64v-3.5M347.5,97.83v-3.5M350.5,98.36v-3.8M351.5,98.53v-1.9M352.5,98.69v-3.2M353.5,98.85v-2.9M354.5,99.00v-2.0M355.5,99.15v-2.8M356.5,99.30v-3.8M357.5,99.45v-1.7M358.5,99.60v-1.7M359.5,99.74v-2.7M361.5,100.03v-3.6M363.5,100.32v-2.6M364.5,100.46v-3.2M370.5,101.23v-1.8M374.5,101.66v-1.7M375.5,101.75v-3.4M377.5,101.93v-3.0M378.5,102.02v-3.3M380.5,102.19v-3.1M381.5,102.28v-2.0M382.5,102.36v-3.6M386.5,102.69v-3.0M388.5,102.86v-1.5M390.5,103.04v-2.3M394.5,103.42v-3.5M395.5,103.51v-2.4M397.5,103.72v-2.4M399.5,103.92v-3.6M400.5,104.02v-3.9M401.5,104.13v-2.2M403.5,104.33v-3.6M404.5,104.44v-2.7M406.5,104.64v-3.6M407.5,104.75v-3.6M408.5,104.85v-2.6M409.5,104.95v-2.1M411.5,105.15v-1.7M414.5,105.44v-3.4M415.5,105.53v-1.6M417.5,105.71v-3.8M419.5,105.89v-3.6M420.5,105.97v-1.5M422.5,106.12v-3.9M423.5,106.20v-3.9M424.5,106.27v-2.9M426.5,106.40v-3.7M427.5,106.46v-1.7M429.5,106.58v-2.2M430.5,106.64v-1.8M431.5,106.70v-3.7M432.5,106.76v-1.7M435.5,106.93v-2.5M436.5,106.98v-2.7M438.5,107.09v-2.3M439.5,107.14v-2.5M440.5,107.19v-2.6M442.5,107.29v-2.8M443.5,107.34v-2.3M445.5,107.44v-1.8M446.5,107.48v-3.0M448.5,107.58v-2.3M449.5,107.62v-2.7M451.5,107.71v-1.5M454.5,107.84v-2.2M456.5,107.92v-2.9M457.5,107.96v-3.5M460.5,108.08v-2.5M462.5,108.15v-2.2M465.5,108.26v-2.9M466.5,108.30v-3.3M469.5,108.40v-2.2M470.5,108.43v-2.4M471.5,108.47v-3.2M473.5,108.53v-1.7M475.5,108.60v-3.0M476.5,108.63v-3.3M478.5,108.69v-2.7M480.5,108.76v-2.7M481.5,108.79v-2.3M483.5,108.85v-2.0M484.5,108.88v-2.1M485.5,108.91v-2.2M486.5,108.94v-2.9M487.5,108.97v-3.6M488.5,109.00v-3.7M489.5,109.03v-2.9M491.5,109.09v-4.0M497.5,109.27v-3.0M499.5,109.32v-2.5M501.5,109.38v-1.5M502.5,109.41v-2.5M503.5,109.43v-2.0M506.5,109.51v-3.6M508.5,109.56v-1.5M509.5,109.59v-2.5M510.5,109.61v-3.8M511.5,109.64v-3.7M513.5,109.68v-2.9M514.5,109.71v-2.3M518.5,109.80v-1.8M520.5,109.84v-3.4M522.5,109.88v-2.2M523.5,109.90v-3.7M525.5,109.94v-1.8M527.5,109.98v-3.7M529.5,110.02v-3.9M531.5,110.05v-2.7M532.5,110.07v-2.1M535.5,110.11v-4.0M536.5,110.13v-3.2M537.5,110.14v-2.9M538.5,110.16v-1.6M539.5,110.17v-2.6" stroke="#fff" stroke-opacity="0.12" stroke-width="0.8" fill="none"/>
<path d="M323.5,127.20 L324.0,127.96 L324.5,128.71 L325.0,129.41 L325.5,130.05 L326.0,130.62 L326.5,131.09 L327.0,131.49 L327.5,131.87 L328.0,132.22 L328.5,132.55 L329.0,132.86 L329.5,133.14 L330.0,133.42 L330.5,133.68 L331.0,133.94 L331.5,134.19 L332.0,134.44 L332.5,134.69 L333.0,134.95 L333.5,135.21 L334.0,135.47 L334.5,135.73 L335.0,135.98 L335.5,136.24 L336.0,136.49 L336.5,136.74 L337.0,136.98 L337.5,137.22 L339.5,138.17 L341.5,139.05 L343.5,139.86 L345.5,140.60 L347.5,141.26 L349.5,141.86 L351.5,142.43 L353.5,142.96 L355.5,143.45 L357.5,143.92 L359.5,144.38 L361.5,144.81 L363.5,145.21 L365.5,145.60 L367.5,145.97 L369.5,146.34 L371.5,146.70 L373.5,147.06 L375.5,147.42 L377.5,147.78 L379.5,148.13 L381.5,148.48 L383.5,148.81 L385.5,149.12 L387.5,149.41 L389.5,149.69 L391.5,149.94 L393.5,150.19 L395.5,150.43 L397.5,150.66 L399.5,150.89 L401.5,151.10 L403.5,151.32 L405.5,151.52 L407.5,151.72 L409.5,151.92 L411.5,152.11 L413.5,152.30 L415.5,152.48 L417.5,152.66 L419.5,152.83 L421.5,153.00 L423.5,153.17 L425.5,153.34 L427.5,153.50 L429.5,153.65 L431.5,153.80 L433.5,153.94 L435.5,154.08 L437.5,154.22 L439.5,154.36 L441.5,154.51 L443.5,154.66 L445.5,154.81 L447.5,154.96 L449.5,155.12 L451.5,155.27 L453.5,155.43 L455.5,155.58 L457.5,155.73 L459.5,155.89 L461.5,156.04 L463.5,156.19 L465.5,156.34 L467.5,156.48 L469.5,156.62 L471.5,156.76 L473.5,156.90 L475.5,157.03 L477.5,157.15 L479.5,157.27 L481.5,157.39 L483.5,157.50 L485.5,157.62 L487.5,157.73 L489.5,157.84 L491.5,157.95 L493.5,158.06 L495.5,158.17 L497.5,158.28 L499.5,158.38 L501.5,158.49 L503.5,158.59 L505.5,158.69 L507.5,158.79 L509.5,158.89 L511.5,158.99 L513.5,159.08 L515.5,159.18 L517.5,159.27 L519.5,159.36 L521.5,159.44 L523.5,159.53 L525.5,159.61 L527.5,159.69 L529.5,159.77 L531.5,159.85 L533.5,159.93 L535.5,160.00 L537.5,160.07 L539.5,160.14 L540.6,160.17 L540.6,170.28 L539.5,170.26 L537.5,170.22 L535.5,170.18 L533.5,170.13 L531.5,170.08 L529.5,170.03 L527.5,169.97 L525.5,169.91 L523.5,169.85 L521.5,169.79 L519.5,169.72 L517.5,169.65 L515.5,169.58 L513.5,169.50 L511.5,169.43 L509.5,169.35 L507.5,169.27 L505.5,169.18 L503.5,169.10 L501.5,169.01 L499.5,168.93 L497.5,168.84 L495.5,168.75 L493.5,168.65 L491.5,168.56 L489.5,168.46 L487.5,168.37 L485.5,168.27 L483.5,168.17 L481.5,168.07 L479.5,167.97 L477.5,167.87 L475.5,167.76 L473.5,167.64 L471.5,167.51 L469.5,167.38 L467.5,167.25 L465.5,167.11 L463.5,166.97 L461.5,166.82 L459.5,166.67 L457.5,166.52 L455.5,166.37 L453.5,166.22 L451.5,166.06 L449.5,165.91 L447.5,165.76 L445.5,165.61 L443.5,165.46 L441.5,165.31 L439.5,165.16 L437.5,165.02 L435.5,164.88 L433.5,164.74 L431.5,164.60 L429.5,164.45 L427.5,164.30 L425.5,164.14 L423.5,163.98 L421.5,163.81 L419.5,163.63 L417.5,163.46 L415.5,163.27 L413.5,163.09 L411.5,162.90 L409.5,162.71 L407.5,162.52 L405.5,162.32 L403.5,162.12 L401.5,161.92 L399.5,161.72 L397.5,161.51 L395.5,161.31 L393.5,161.10 L391.5,160.90 L389.5,160.69 L387.5,160.49 L385.5,160.29 L383.5,160.09 L381.5,159.89 L379.5,159.69 L377.5,159.47 L375.5,159.23 L373.5,158.98 L371.5,158.70 L369.5,158.38 L367.5,158.01 L365.5,157.61 L363.5,157.18 L361.5,156.73 L359.5,156.28 L357.5,155.83 L355.5,155.38 L353.5,154.91 L351.5,154.42 L349.5,153.92 L347.5,153.38 L345.5,152.81 L343.5,152.20 L341.5,151.54 L339.5,150.84 L337.5,150.12 L337.0,149.93 L336.5,149.75 L336.0,149.56 L335.5,149.38 L335.0,149.19 L334.5,149.00 L334.0,148.81 L333.5,148.63 L333.0,148.44 L332.5,148.25 L332.0,148.07 L331.5,147.89 L331.0,147.71 L330.5,147.53 L330.0,147.34 L329.5,147.15 L329.0,146.96 L328.5,146.76 L328.0,146.55 L327.5,146.33 L327.0,146.10 L326.5,145.85 L326.0,145.58 L325.5,145.29 L325.0,144.96 L324.5,144.62 L324.0,144.26 L323.5,143.90Z" fill="#0000ff"/>
<path d="M323.5,183.90 L324.0,184.95 L324.5,185.98 L325.0,186.94 L325.5,187.81 L326.0,188.54 L326.5,189.10 L327.0,189.57 L327.5,190.00 L328.0,190.39 L328.5,190.75 L329.0,191.09 L329.5,191.40 L330.0,191.69 L330.5,191.96 L331.0,192.22 L331.5,192.48 L332.0,192.73 L332.5,192.99 L333.0,193.25 L333.5,193.52 L334.0,193.77 L334.5,194.03 L335.0,194.28 L335.5,194.52 L336.0,194.77 L336.5,195.00 L337.0,195.24 L337.5,195.47 L339.5,196.35 L341.5,197.18 L343.5,197.96 L345.5,198.69 L347.5,199.38 L349.5,200.04 L351.5,200.66 L353.5,201.25 L355.5,201.80 L357.5,202.31 L359.5,202.79 L361.5,203.23 L363.5,203.64 L365.5,204.04 L367.5,204.41 L369.5,204.76 L371.5,205.10 L373.5,205.43 L375.5,205.74 L377.5,206.05 L379.5,206.34 L381.5,206.63 L383.5,206.90 L385.5,207.17 L387.5,207.43 L389.5,207.69 L391.5,207.94 L393.5,208.18 L395.5,208.42 L397.5,208.66 L399.5,208.89 L401.5,209.12 L403.5,209.34 L405.5,209.56 L407.5,209.77 L409.5,209.99 L411.5,210.20 L413.5,210.41 L415.5,210.62 L417.5,210.83 L419.5,211.03 L421.5,211.24 L423.5,211.45 L425.5,211.65 L427.5,211.86 L429.5,212.06 L431.5,212.27 L433.5,212.47 L435.5,212.68 L437.5,212.88 L439.5,213.08 L441.5,213.28 L443.5,213.48 L445.5,213.67 L447.5,213.87 L449.5,214.06 L451.5,214.24 L453.5,214.43 L455.5,214.61 L457.5,214.78 L459.5,214.96 L461.5,215.13 L463.5,215.29 L465.5,215.46 L467.5,215.62 L469.5,215.79 L471.5,215.95 L473.5,216.10 L475.5,216.26 L477.5,216.42 L479.5,216.57 L481.5,216.72 L483.5,216.87 L485.5,217.01 L487.5,217.16 L489.5,217.30 L491.5,217.44 L493.5,217.57 L495.5,217.71 L497.5,217.84 L499.5,217.97 L501.5,218.10 L503.5,218.22 L505.5,218.35 L507.5,218.47 L509.5,218.59 L511.5,218.71 L513.5,218.83 L515.5,218.95 L517.5,219.06 L519.5,219.18 L521.5,219.29 L523.5,219.40 L525.5,219.51 L527.5,219.61 L529.5,219.72 L531.5,219.82 L533.5,219.92 L535.5,220.02 L537.5,220.11 L539.5,220.21 L540.6,220.26 L540.6,228.36 L539.5,228.31 L537.5,228.22 L535.5,228.13 L533.5,228.04 L531.5,227.94 L529.5,227.84 L527.5,227.74 L525.5,227.64 L523.5,227.54 L521.5,227.43 L519.5,227.33 L517.5,227.22 L515.5,227.11 L513.5,227.00 L511.5,226.88 L509.5,226.77 L507.5,226.65 L505.5,226.53 L503.5,226.41 L501.5,226.29 L499.5,226.17 L497.5,226.05 L495.5,225.92 L493.5,225.79 L491.5,225.66 L489.5,225.53 L487.5,225.39 L485.5,225.25 L483.5,225.11 L481.5,224.97 L479.5,224.83 L477.5,224.68 L475.5,224.53 L473.5,224.38 L471.5,224.23 L469.5,224.07 L467.5,223.92 L465.5,223.75 L463.5,223.59 L461.5,223.43 L459.5,223.26 L457.5,223.09 L455.5,222.91 L453.5,222.73 L451.5,222.54 L449.5,222.35 L447.5,222.16 L445.5,221.96 L443.5,221.76 L441.5,221.55 L439.5,221.35 L437.5,221.14 L435.5,220.93 L433.5,220.72 L431.5,220.50 L429.5,220.29 L427.5,220.07 L425.5,219.85 L423.5,219.64 L421.5,219.42 L419.5,219.20 L417.5,218.98 L415.5,218.75 L413.5,218.53 L411.5,218.30 L409.5,218.07 L407.5,217.84 L405.5,217.60 L403.5,217.36 L401.5,217.12 L399.5,216.87 L397.5,216.62 L395.5,216.37 L393.5,216.11 L391.5,215.85 L389.5,215.59 L387.5,215.32 L385.5,215.04 L383.5,214.76 L381.5,214.48 L379.5,214.18 L377.5,213.88 L375.5,213.57 L373.5,213.24 L371.5,212.90 L369.5,212.54 L367.5,212.16 L365.5,211.76 L363.5,211.35 L361.5,210.92 L359.5,210.48 L357.5,210.03 L355.5,209.59 L353.5,209.13 L351.5,208.65 L349.5,208.15 L347.5,207.60 L345.5,207.01 L343.5,206.36 L341.5,205.67 L339.5,204.91 L337.5,204.09 L337.0,203.87 L336.5,203.65 L336.0,203.42 L335.5,203.19 L335.0,202.95 L334.5,202.71 L334.0,202.46 L333.5,202.21 L333.0,201.95 L332.5,201.69 L332.0,201.42 L331.5,201.14 L331.0,200.85 L330.5,200.54 L330.0,200.23 L329.5,199.90 L329.0,199.55 L328.5,199.18 L328.0,198.79 L327.5,198.39 L327.0,197.95 L326.5,197.49 L326.0,196.99 L325.5,196.40 L325.0,195.73 L324.5,195.02 L324.0,194.27 L323.5,193.50Z" fill="#ff8000"/>
<path d="M453.2,153.5v4.2" stroke="#fff" stroke-width="0.8"/>
<g stroke="#000" stroke-width="1" fill="none">
<rect x="323.5" y="6.9" width="218.0" height="224.4"/>
<path d="M323.5,63.2H541.5M323.5,120.4H541.5M323.5,175.4H541.5"/>
</g>
<g font-size="8.45" text-anchor="end" stroke="#000" stroke-width="0.2">
<text transform="translate(318.2,10.85) scale(1,1.07)">0.231</text>
<text transform="translate(318.2,24.65) scale(1,1.07)">0.154</text>
<text transform="translate(318.2,38.55) scale(1,1.07)">0.077</text>
<text transform="translate(318.2,52.45) scale(1,1.07)">0.000</text>
<text transform="translate(318.8,74.25) scale(1,1.07)">0.000</text>
<text transform="translate(318.8,88.55) scale(1,1.07)">−0.035</text>
<text transform="translate(318.8,102.75) scale(1,1.07)">−0.070</text>
<text transform="translate(318.8,117.05) scale(1,1.07)">−0.105</text>
<text transform="translate(318.6,132.15) scale(1,1.07)">0.034</text>
<text transform="translate(318.6,145.95) scale(1,1.07)">0.000</text>
<text transform="translate(318.6,159.95) scale(1,1.07)">−0.034</text>
<text transform="translate(318.6,173.75) scale(1,1.07)">−0.068</text>
<text transform="translate(318.6,183.35) scale(1,1.07)">0.0072</text>
<text transform="translate(318.6,197.05) scale(1,1.07)">0.0000</text>
<text transform="translate(318.6,211.05) scale(1,1.07)">−0.0072</text>
<text transform="translate(318.6,225.05) scale(1,1.07)">−0.0144</text>
</g>
<g font-size="8.45" text-anchor="middle" stroke="#000" stroke-width="0.2">
<text transform="translate(323.5,242.6) scale(1,1.07)">0</text>
<text transform="translate(377.6,242.6) scale(1,1.07)">50</text>
<text transform="translate(433.0,242.6) scale(1,1.07)">100</text>
<text transform="translate(486.7,242.6) scale(1,1.07)">150</text>
<text transform="translate(541.5,242.6) scale(1,1.07)">200</text>
</g>
<rect x="453.8" y="6.9" width="87.2" height="15.1" fill="#fff" stroke="#333" stroke-width="0.6"/>
<path d="M455.6,14.4h24.2" stroke="#ff0000" stroke-width="1.15"/>
<text x="538.7" y="18.2" font-size="10.55" text-anchor="end" stroke="#000" stroke-width="0.2">4 wt.% CNT</text>
<rect x="453.8" y="63.2" width="87.2" height="13.8" fill="#fff" stroke="#333" stroke-width="0.6"/>
<path d="M455.6,70.1h24.2" stroke="#00ff00" stroke-width="1.15"/>
<text x="538.7" y="73.9" font-size="10.55" text-anchor="end" stroke="#000" stroke-width="0.2">5 wt.% CNT</text>
<rect x="453.8" y="120.4" width="87.2" height="14.2" fill="#fff" stroke="#333" stroke-width="0.6"/>
<path d="M455.6,127.5h24.2" stroke="#0000ff" stroke-width="1.15"/>
<text x="538.7" y="131.3" font-size="10.55" text-anchor="end" stroke="#000" stroke-width="0.2">6 wt.% CNT</text>
<rect x="453.8" y="175.4" width="87.2" height="14.2" fill="#fff" stroke="#333" stroke-width="0.6"/>
<path d="M455.6,182.5h24.2" stroke="#ff8000" stroke-width="1.15"/>
<text x="538.7" y="186.3" font-size="10.55" text-anchor="end" stroke="#000" stroke-width="0.2">7 wt.% CNT</text>
<path d="M386.10,23.17 L386.60,23.10 L387.10,23.01 L387.60,22.91 L388.10,22.51 L388.60,21.56 L389.10,20.12 L389.60,18.64 L390.10,17.17 L390.60,15.71 L391.10,14.27 L391.60,12.97 L392.10,12.29 L392.60,12.87 L393.10,14.45 L393.60,16.22 L394.10,17.53 L394.60,18.49 L395.10,19.34 L395.60,20.01 L396.10,20.52 L396.60,21.02 L397.10,21.50 L397.60,21.91 L398.10,22.26 L398.60,22.58 L399.10,22.86 L399.60,22.87 L400.10,22.23 L400.60,21.02 L401.10,19.53 L401.60,18.05 L402.10,16.59 L402.60,15.14 L403.10,13.69 L403.60,12.62 L404.10,12.34 L404.60,13.38 L405.10,15.20 L405.60,16.79 L406.10,17.91 L406.60,18.85 L407.10,19.63 L407.60,20.22 L408.10,20.72 L408.60,21.22 L409.10,21.66 L409.60,22.02 L410.10,22.29 L410.60,22.56 L411.10,22.83 L411.60,22.94 L412.10,22.58 L412.60,21.56 L413.10,20.12 L413.60,18.64 L414.10,17.17 L414.60,15.71 L415.10,14.27 L415.60,12.97 L416.10,12.29 L416.60,12.87 L417.10,14.45 L417.60,16.22 L418.10,17.53 L418.60,18.49 L419.10,19.34 L419.60,20.01 L420.10,20.52 L420.60,21.02 L421.10,21.50 L421.60,21.89 L422.10,22.20 L422.60,22.48 L423.10,22.76 L423.60,22.93 L424.10,22.71 L424.60,21.81 L425.10,20.42 L425.60,18.94 L426.10,17.46 L426.60,16.00 L427.10,14.56 L427.60,13.20 L428.10,12.36 L428.60,12.65 L429.10,14.06 L429.60,15.89 L430.10,17.29 L430.60,18.29 L431.10,19.18 L431.60,19.89 L432.10,20.42 L432.60,20.92 L433.10,21.41 L433.60,21.84 L434.10,22.22 L434.60,22.56 L435.10,22.85 L435.60,22.87 L436.10,22.23 L436.60,21.02 L437.10,19.53 L437.60,18.05 L438.10,16.59 L438.60,15.14 L439.10,13.69 L439.60,12.62 L440.10,12.34 L440.60,13.38 L441.10,15.20 L441.60,16.79 L442.10,17.91 L442.60,18.85 L443.10,19.63 L443.60,20.22 L444.10,20.72 L444.60,21.22 L445.10,21.68 L445.60,22.08 L446.10,22.42 L446.60,22.76 L447.10,23.10 L447.60,23.45 L448.10,23.76" fill="none" stroke="#ff0000" stroke-width="1.35" stroke-linejoin="round" stroke-linecap="round"/>
<path d="M392.00,78.41 L392.50,77.38 L393.00,75.82 L393.50,74.21 L394.00,72.61 L394.50,71.03 L395.00,69.46 L395.50,67.99 L396.00,67.08 L396.50,67.40 L397.00,68.93 L397.50,70.91 L398.00,72.43 L398.50,73.51 L399.00,74.48 L399.50,75.24 L400.00,75.82 L400.50,76.35 L401.00,76.88 L401.50,77.35 L402.00,77.76 L402.50,78.12 L403.00,78.43 L403.50,78.46 L404.00,77.78 L404.50,76.47 L405.00,74.86 L405.50,73.25 L406.00,71.66 L406.50,70.09 L407.00,68.52 L407.50,67.36 L408.00,67.06 L408.50,68.19 L409.00,70.17 L409.50,71.89 L410.00,73.10 L410.50,74.11 L411.00,74.96 L411.50,75.60 L412.00,76.14 L412.50,76.68 L413.00,77.18 L413.50,77.62 L414.00,78.01 L414.50,78.37 L415.00,78.51 L415.50,77.99 L416.00,76.79 L416.50,75.18 L417.00,73.57 L417.50,71.98 L418.00,70.41 L418.50,68.84 L419.00,67.55 L419.50,67.03 L420.00,67.91 L420.50,69.75 L421.00,71.58 L421.50,72.90 L422.00,73.93 L422.50,74.81 L423.00,75.50 L423.50,76.03 L424.00,76.57 L424.50,77.08 L425.00,77.50 L425.50,77.85 L426.00,78.17 L426.50,78.46 L427.00,78.46 L427.50,77.78 L428.00,76.47 L428.50,74.86 L429.00,73.25 L429.50,71.66 L430.00,70.09 L430.50,68.52 L431.00,67.36 L431.50,67.06 L432.00,68.19 L432.50,70.17 L433.00,71.89 L433.50,73.10 L434.00,74.11 L434.50,74.96 L435.00,75.60 L435.50,76.14 L436.00,76.68 L436.50,77.16 L437.00,77.56 L437.50,77.88 L438.00,78.20 L438.50,78.47 L439.00,78.47 L439.50,77.78 L440.00,76.47 L440.50,74.86 L441.00,73.25 L441.50,71.66 L442.00,70.09 L442.50,68.52 L443.00,67.36 L443.50,67.06 L444.00,68.19 L444.50,70.17 L445.00,71.89 L445.50,73.10 L446.00,74.11 L446.50,74.96 L447.00,75.60 L447.50,76.14 L448.00,76.68 L448.50,77.20 L449.00,77.71 L449.50,78.21 L450.00,78.71 L450.50,79.05" fill="none" stroke="#00ff00" stroke-width="1.35" stroke-linejoin="round" stroke-linecap="round"/>
<path d="M392.10,139.06 L392.60,137.83 L393.10,136.10 L393.60,134.38 L394.10,132.68 L394.60,130.99 L395.10,129.31 L395.60,127.81 L396.10,127.02 L396.60,127.69 L397.10,129.52 L397.60,131.58 L398.10,133.09 L398.60,134.20 L399.10,135.18 L399.60,135.96 L400.10,136.55 L400.60,137.12 L401.10,137.67 L401.60,138.12 L402.10,138.45 L402.60,138.74 L403.10,139.03 L403.60,139.28 L404.10,139.27 L404.60,138.53 L405.10,137.13 L405.60,135.41 L406.10,133.70 L406.60,132.00 L407.10,130.32 L407.60,128.64 L408.10,127.40 L408.60,127.08 L409.10,128.28 L409.60,130.40 L410.10,132.24 L410.60,133.54 L411.10,134.62 L411.60,135.52 L412.10,136.21 L412.60,136.78 L413.10,137.35 L413.60,137.87 L414.10,138.30 L414.60,138.64 L415.10,138.97 L415.60,139.25 L416.10,139.26 L416.60,138.53 L417.10,137.13 L417.60,135.41 L418.10,133.70 L418.60,132.00 L419.10,130.32 L419.60,128.64 L420.10,127.40 L420.60,127.08 L421.10,128.28 L421.60,130.40 L422.10,132.24 L422.60,133.54 L423.10,134.62 L423.60,135.52 L424.10,136.21 L424.60,136.78 L425.10,137.35 L425.60,137.88 L426.10,138.32 L426.60,138.70 L427.10,139.06 L427.60,139.29 L428.10,139.07 L428.60,138.05 L429.10,136.44 L429.60,134.72 L430.10,133.01 L430.60,131.32 L431.10,129.65 L431.60,128.07 L432.10,127.10 L432.60,127.44 L433.10,129.07 L433.60,131.20 L434.10,132.82 L434.60,133.98 L435.10,135.00 L435.60,135.82 L436.10,136.44 L436.60,137.01 L437.10,137.57 L437.60,138.05 L438.10,138.44 L438.60,138.77 L439.10,139.10 L439.60,139.31 L440.10,139.07 L440.60,138.05 L441.10,136.44 L441.60,134.72 L442.10,133.01 L442.60,131.32 L443.10,129.65 L443.60,128.07 L444.10,127.10 L444.60,127.44 L445.10,129.07 L445.60,131.20 L446.10,132.82 L446.60,133.98 L447.10,135.00 L447.60,135.82 L448.10,136.44 L448.60,137.01 L449.10,137.58 L449.60,138.13 L450.10,138.65 L450.60,139.17 L451.10,139.68 L451.60,140.19 L452.10,140.55" fill="none" stroke="#0000ff" stroke-width="1.35" stroke-linejoin="round" stroke-linecap="round"/>
<path d="M390.20,193.84 L390.70,193.94 L391.20,194.08 L391.70,194.18 L392.20,194.08 L392.70,193.52 L393.20,192.43 L393.70,190.94 L394.20,189.40 L394.70,187.88 L395.20,186.39 L395.70,184.96 L396.20,183.59 L396.70,182.71 L397.20,182.66 L397.70,183.68 L398.20,185.41 L398.70,187.30 L399.20,189.28 L399.70,191.34 L400.20,193.35 L400.70,194.67 L401.20,195.01 L401.70,194.46 L402.20,193.51 L402.70,192.86 L403.20,192.75 L403.70,193.09 L404.20,193.59 L404.70,193.76 L405.20,193.14 L405.70,191.86 L406.20,190.32 L406.70,188.79 L407.20,187.28 L407.70,185.81 L408.20,184.39 L408.70,183.17 L409.20,182.51 L409.70,182.96 L410.20,184.28 L410.70,186.16 L411.20,188.09 L411.70,190.09 L412.20,192.18 L412.70,193.98 L413.20,194.98 L413.70,194.86 L414.20,194.12 L414.70,193.19 L415.20,192.73 L415.70,192.86 L416.20,193.28 L416.70,193.73 L417.20,193.62 L417.70,192.69 L418.20,191.24 L418.70,189.71 L419.20,188.18 L419.70,186.69 L420.20,185.24 L420.70,183.82 L421.20,182.83 L421.70,182.55 L422.20,183.42 L422.70,185.03 L423.20,186.92 L423.70,188.88 L424.20,190.92 L424.70,193.01 L425.20,194.49 L425.70,195.07 L426.20,194.61 L426.70,193.68 L427.20,192.94 L427.70,192.70 L428.20,193.01 L428.70,193.52 L429.20,193.84 L429.70,193.64 L430.20,192.68 L430.70,191.24 L431.20,189.71 L431.70,188.18 L432.20,186.69 L432.70,185.24 L433.20,183.82 L433.70,182.83 L434.20,182.55 L434.70,183.42 L435.20,185.03 L435.70,186.92 L436.20,188.88 L436.70,190.92 L437.20,193.01 L437.70,194.49 L438.20,195.07 L438.70,194.61 L439.20,193.68 L439.70,192.94 L440.20,192.70 L440.70,193.01 L441.20,193.52 L441.70,193.85 L442.20,193.75 L442.70,192.91 L443.20,191.55 L443.70,190.02 L444.20,188.48 L444.70,186.98 L445.20,185.53 L445.70,184.10 L446.20,183.00 L446.70,182.53 L447.20,183.19 L447.70,184.66 L448.20,186.54 L448.70,188.48 L449.20,190.50 L449.70,192.59 L450.20,194.24 L450.70,195.05 L451.20,194.99 L451.70,194.64 L452.20,194.22" fill="none" stroke="#ff8000" stroke-width="1.35" stroke-linejoin="round" stroke-linecap="round"/>
<text x="432.4" y="261.3" font-size="12.45" font-weight="bold" text-anchor="middle">Number of cycles</text>
<text transform="translate(290,125.7) rotate(-90)" font-size="12.7" font-weight="bold" text-anchor="middle">ΔR/R<tspan font-size="9.5" dy="2.4">0</tspan></text>
<text x="414.7" y="287" font-size="12.7" text-anchor="middle" font-family="'Liberation Serif', serif">(<tspan font-weight="bold">b</tspan>)</text>
</svg>
</body></html>
